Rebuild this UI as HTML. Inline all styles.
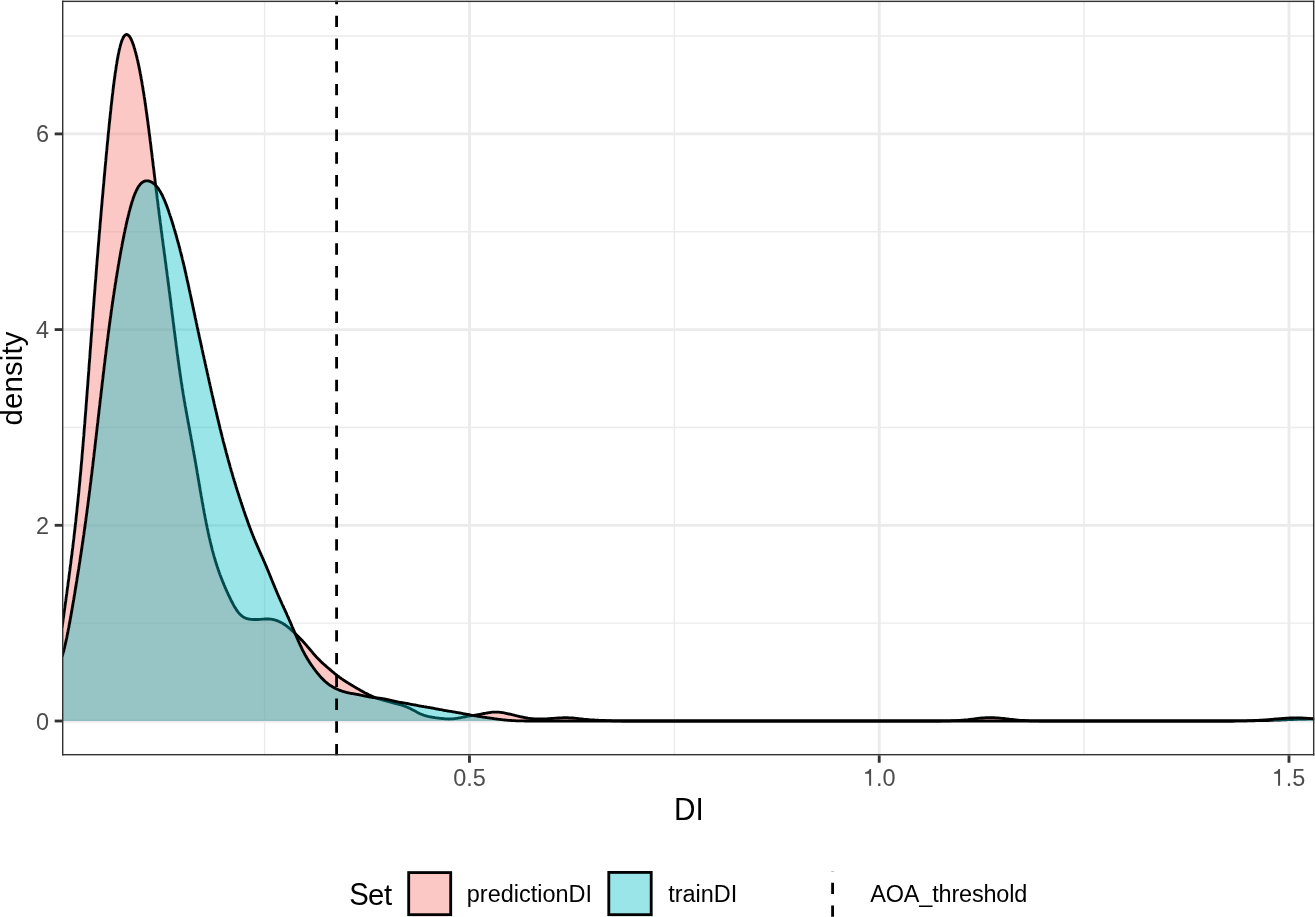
<!DOCTYPE html>
<html><head><meta charset="utf-8"><style>
html,body{margin:0;padding:0;background:#fff;}
body{width:1315px;height:917px;overflow:hidden;}
svg{display:block;font-family:"Liberation Sans",sans-serif;will-change:transform;}
</style></head><body>
<svg width="1315" height="917" viewBox="0 0 1315 917">
<defs><clipPath id="pc"><rect x="62.0" y="0.65" width="1252.40" height="754.75"/></clipPath></defs>
<rect x="0" y="0" width="1315" height="917" fill="#fff"/>
<g clip-path="url(#pc)">
<g stroke="#EBEBEB"><line x1="62.0" x2="1314.4" y1="623.15" y2="623.15" stroke-width="1.42"/><line x1="62.0" x2="1314.4" y1="427.45" y2="427.45" stroke-width="1.42"/><line x1="62.0" x2="1314.4" y1="231.75" y2="231.75" stroke-width="1.42"/><line x1="62.0" x2="1314.4" y1="36.05" y2="36.05" stroke-width="1.42"/><line y1="0.65" y2="755.4" x1="264.58" x2="264.58" stroke-width="1.42"/><line y1="0.65" y2="755.4" x1="674.34" x2="674.34" stroke-width="1.42"/><line y1="0.65" y2="755.4" x1="1084.09" x2="1084.09" stroke-width="1.42"/><line x1="62.0" x2="1314.4" y1="721.00" y2="721.00" stroke-width="2.84"/><line x1="62.0" x2="1314.4" y1="525.30" y2="525.30" stroke-width="2.84"/><line x1="62.0" x2="1314.4" y1="329.60" y2="329.60" stroke-width="2.84"/><line x1="62.0" x2="1314.4" y1="133.90" y2="133.90" stroke-width="2.84"/><line y1="0.65" y2="755.4" x1="469.46" x2="469.46" stroke-width="2.84"/><line y1="0.65" y2="755.4" x1="879.21" x2="879.21" stroke-width="2.84"/><line y1="0.65" y2="755.4" x1="1288.97" x2="1288.97" stroke-width="2.84"/></g>
<path d="M62.0,627.5L62.2,625.8L62.5,624.0L62.8,622.3L63.0,620.5L63.2,618.7L63.5,617.0L63.8,615.2L64.0,613.4L64.2,611.6L64.5,609.8L64.8,608.0L65.0,606.2L65.2,604.4L65.5,602.6L65.8,600.7L66.0,598.9L66.2,597.1L66.5,595.2L66.8,593.4L67.0,591.6L67.2,589.7L67.5,587.8L67.8,586.0L68.0,584.1L68.2,582.2L68.5,580.4L68.8,578.5L69.0,576.6L69.2,574.7L69.5,572.8L69.8,570.9L70.0,569.0L70.2,567.0L70.5,565.1L70.8,563.2L71.0,561.2L71.2,559.2L71.5,557.3L71.8,555.3L72.0,553.3L72.2,551.2L72.5,549.2L72.8,547.2L73.0,545.1L73.2,543.1L73.5,541.0L73.8,538.9L74.0,536.7L74.2,534.6L74.5,532.5L74.8,530.3L75.0,528.1L75.2,525.9L75.5,523.6L75.8,521.4L76.0,519.1L76.2,516.8L76.5,514.5L76.8,512.1L77.0,509.8L77.2,507.4L77.5,504.9L77.8,502.5L78.0,500.0L78.2,497.5L78.5,495.0L78.8,492.4L79.0,489.9L79.2,487.3L79.5,484.6L79.8,482.0L80.0,479.3L80.2,476.6L80.5,473.8L80.8,471.1L81.0,468.3L81.2,465.5L81.5,462.6L81.8,459.8L82.0,456.9L82.2,453.9L82.5,451.0L82.8,448.0L83.0,445.0L83.2,442.0L83.5,438.9L83.8,435.9L84.0,432.8L84.2,429.7L84.5,426.5L84.8,423.4L85.0,420.2L85.2,417.0L85.5,413.8L85.8,410.6L86.0,407.3L86.2,404.1L86.5,400.8L86.8,397.5L87.0,394.2L87.2,390.9L87.5,387.6L87.8,384.3L88.0,380.9L88.2,377.6L88.5,374.3L88.8,370.9L89.0,367.5L89.2,364.2L89.5,360.8L89.8,357.4L90.0,354.1L90.2,350.7L90.5,347.3L90.8,344.0L91.0,340.6L91.2,337.2L91.5,333.9L91.8,330.5L92.0,327.2L92.2,323.9L92.5,320.5L92.8,317.2L93.0,313.9L93.2,310.6L93.5,307.3L93.8,304.0L94.0,300.7L94.2,297.5L94.5,294.2L94.8,291.0L95.0,287.8L95.2,284.5L95.5,281.3L95.8,278.2L96.0,275.0L96.2,271.8L96.5,268.7L96.8,265.5L97.0,262.4L97.2,259.3L97.5,256.2L97.8,253.1L98.0,250.0L98.2,247.0L98.5,244.0L98.8,240.9L99.0,237.9L99.2,234.9L99.5,231.9L99.8,228.9L100.0,226.0L100.2,223.0L100.5,220.1L100.8,217.1L101.0,214.2L101.2,211.3L101.5,208.4L101.8,205.5L102.0,202.7L102.2,199.8L102.5,196.9L102.8,194.1L103.0,191.3L103.2,188.5L103.5,185.6L103.8,182.9L104.0,180.1L104.2,177.3L104.5,174.5L104.8,171.8L105.0,169.0L105.2,166.3L105.5,163.6L105.8,160.9L106.0,158.2L106.2,155.5L106.5,152.9L106.8,150.2L107.0,147.6L107.2,145.0L107.5,142.4L107.8,139.8L108.0,137.2L108.2,134.7L108.5,132.1L108.8,129.6L109.0,127.1L109.2,124.6L109.5,122.2L109.8,119.8L110.0,117.3L110.2,115.0L110.5,112.6L110.8,110.2L111.0,107.9L111.2,105.6L111.5,103.4L111.8,101.1L112.0,98.9L112.2,96.8L112.5,94.6L112.8,92.5L113.0,90.4L113.2,88.4L113.5,86.3L113.8,84.3L114.0,82.4L114.2,80.5L114.5,78.6L114.8,76.8L115.0,74.9L115.2,73.2L115.5,71.4L115.8,69.7L116.0,68.1L116.2,66.5L116.5,64.9L116.8,63.3L117.0,61.8L117.2,60.4L117.5,59.0L117.8,57.6L118.0,56.2L118.2,54.9L118.5,53.7L118.8,52.5L119.0,51.3L119.2,50.2L119.5,49.1L119.8,48.0L120.0,47.0L120.2,46.1L120.5,45.1L120.8,44.3L121.0,43.4L121.2,42.6L121.5,41.8L121.8,41.1L122.0,40.4L122.2,39.8L122.5,39.2L122.8,38.6L123.0,38.1L123.2,37.6L123.5,37.1L124.0,36.4L124.5,35.7L125.0,35.2L125.5,34.8L126.0,34.6L126.5,34.5L127.0,34.5L127.5,34.7L128.0,35.0L128.5,35.4L129.0,35.9L129.5,36.5L130.0,37.3L130.5,38.1L130.8,38.6L131.0,39.1L131.2,39.6L131.5,40.1L131.8,40.7L132.0,41.3L132.2,41.9L132.5,42.5L132.8,43.2L133.0,43.9L133.2,44.6L133.5,45.3L133.8,46.1L134.0,46.9L134.2,47.7L134.5,48.5L134.8,49.3L135.0,50.2L135.2,51.1L135.5,52.0L135.8,52.9L136.0,53.9L136.2,54.9L136.5,55.9L136.8,56.9L137.0,57.9L137.2,59.0L137.5,60.1L137.8,61.2L138.0,62.3L138.2,63.4L138.5,64.6L138.8,65.8L139.0,67.0L139.2,68.2L139.5,69.4L139.8,70.7L140.0,72.0L140.2,73.3L140.5,74.6L140.8,76.0L141.0,77.3L141.2,78.7L141.5,80.1L141.8,81.6L142.0,83.0L142.2,84.5L142.5,86.0L142.8,87.5L143.0,89.0L143.2,90.5L143.5,92.1L143.8,93.7L144.0,95.3L144.2,96.9L144.5,98.6L144.8,100.2L145.0,101.9L145.2,103.6L145.5,105.3L145.8,107.0L146.0,108.8L146.2,110.6L146.5,112.4L146.8,114.2L147.0,116.0L147.2,117.8L147.5,119.7L147.8,121.5L148.0,123.4L148.2,125.3L148.5,127.2L148.8,129.2L149.0,131.1L149.2,133.1L149.5,135.0L149.8,137.0L150.0,139.0L150.2,141.0L150.5,143.0L150.8,145.0L151.0,147.0L151.2,149.1L151.5,151.1L151.8,153.1L152.0,155.2L152.2,157.2L152.5,159.3L152.8,161.4L153.0,163.4L153.2,165.5L153.5,167.6L153.8,169.6L154.0,171.7L154.2,173.8L154.5,175.9L154.8,177.9L155.0,180.0L155.2,182.1L155.5,184.1L155.8,186.2L156.0,188.2L156.2,190.3L156.5,192.3L156.8,194.4L157.0,196.4L157.2,198.4L157.5,200.4L157.8,202.4L158.0,204.5L158.2,206.5L158.5,208.4L158.8,210.4L159.0,212.4L159.2,214.4L159.5,216.3L159.8,218.3L160.0,220.3L160.2,222.2L160.5,224.1L160.8,226.1L161.0,228.0L161.2,229.9L161.5,231.8L161.8,233.7L162.0,235.6L162.2,237.5L162.5,239.4L162.8,241.3L163.0,243.2L163.2,245.1L163.5,247.0L163.8,248.8L164.0,250.7L164.2,252.6L164.5,254.5L164.8,256.3L165.0,258.2L165.2,260.1L165.5,262.0L165.8,263.8L166.0,265.7L166.2,267.6L166.5,269.5L166.8,271.4L167.0,273.3L167.2,275.2L167.5,277.1L167.8,279.0L168.0,280.9L168.2,282.8L168.5,284.7L168.8,286.7L169.0,288.6L169.2,290.5L169.5,292.5L169.8,294.4L170.0,296.4L170.2,298.3L170.5,300.3L170.8,302.3L171.0,304.2L171.2,306.2L171.5,308.2L171.8,310.1L172.0,312.1L172.2,314.1L172.5,316.1L172.8,318.1L173.0,320.1L173.2,322.0L173.5,324.0L173.8,326.0L174.0,328.0L174.2,329.9L174.5,331.9L174.8,333.9L175.0,335.9L175.2,337.8L175.5,339.8L175.8,341.7L176.0,343.6L176.2,345.6L176.5,347.5L176.8,349.4L177.0,351.3L177.2,353.2L177.5,355.1L177.8,356.9L178.0,358.8L178.2,360.6L178.5,362.4L178.8,364.3L179.0,366.0L179.2,367.8L179.5,369.6L179.8,371.3L180.0,373.1L180.2,374.8L180.5,376.5L180.8,378.2L181.0,379.9L181.2,381.5L181.5,383.2L181.8,384.8L182.0,386.4L182.2,388.0L182.5,389.6L182.8,391.1L183.0,392.7L183.2,394.2L183.5,395.7L183.8,397.2L184.0,398.7L184.2,400.2L184.5,401.7L184.8,403.1L185.0,404.6L185.2,406.0L185.5,407.4L185.8,408.8L186.0,410.2L186.2,411.6L186.5,413.0L186.8,414.4L187.0,415.8L187.2,417.1L187.5,418.5L187.8,419.8L188.0,421.2L188.2,422.6L188.5,423.9L188.8,425.2L189.0,426.6L189.2,427.9L189.5,429.3L189.8,430.6L190.0,432.0L190.2,433.3L190.5,434.7L190.8,436.0L191.0,437.4L191.2,438.7L191.5,440.1L191.8,441.5L192.0,442.8L192.2,444.2L192.5,445.6L192.8,447.0L193.0,448.4L193.2,449.8L193.5,451.2L193.8,452.6L194.0,454.0L194.2,455.4L194.5,456.8L194.8,458.2L195.0,459.7L195.2,461.1L195.5,462.5L195.8,464.0L196.0,465.4L196.2,466.9L196.5,468.3L196.8,469.8L197.0,471.2L197.2,472.7L197.5,474.2L197.8,475.6L198.0,477.1L198.2,478.6L198.5,480.0L198.8,481.5L199.0,483.0L199.2,484.4L199.5,485.9L199.8,487.4L200.0,488.8L200.2,490.3L200.5,491.7L200.8,493.2L201.0,494.6L201.2,496.0L201.5,497.5L201.8,498.9L202.0,500.3L202.2,501.7L202.5,503.1L202.8,504.5L203.0,505.9L203.2,507.3L203.5,508.7L203.8,510.1L204.0,511.4L204.2,512.8L204.5,514.1L204.8,515.4L205.0,516.7L205.2,518.0L205.5,519.3L205.8,520.6L206.0,521.9L206.2,523.1L206.5,524.4L206.8,525.6L207.0,526.8L207.2,528.0L207.5,529.2L207.8,530.4L208.0,531.6L208.2,532.8L208.5,533.9L208.8,535.0L209.0,536.2L209.2,537.3L209.5,538.4L209.8,539.4L210.0,540.5L210.2,541.6L210.5,542.6L210.8,543.7L211.0,544.7L211.2,545.7L211.5,546.7L211.8,547.7L212.0,548.7L212.2,549.6L212.5,550.6L212.8,551.5L213.0,552.5L213.2,553.4L213.5,554.3L213.8,555.2L214.0,556.1L214.2,556.9L214.5,557.8L214.8,558.7L215.0,559.5L215.2,560.3L215.5,561.2L215.8,562.0L216.0,562.8L216.2,563.6L216.5,564.4L216.8,565.2L217.0,565.9L217.2,566.7L217.5,567.4L217.8,568.2L218.0,568.9L218.2,569.7L218.5,570.4L218.8,571.1L219.0,571.8L219.2,572.5L219.5,573.2L219.8,573.9L220.0,574.6L220.2,575.2L220.5,575.9L220.8,576.6L221.0,577.2L221.2,577.9L221.5,578.5L221.8,579.2L222.0,579.8L222.2,580.4L222.5,581.1L222.8,581.7L223.0,582.3L223.2,582.9L223.5,583.5L223.8,584.1L224.0,584.7L224.2,585.3L224.5,585.9L224.8,586.5L225.0,587.1L225.2,587.7L225.5,588.2L225.8,588.8L226.0,589.4L226.2,590.0L226.5,590.5L226.8,591.1L227.0,591.7L227.2,592.2L227.5,592.8L227.8,593.3L228.0,593.9L228.2,594.4L228.5,594.9L228.8,595.5L229.0,596.0L229.2,596.5L229.5,597.1L229.8,597.6L230.0,598.1L230.2,598.6L230.5,599.1L230.8,599.7L231.0,600.2L231.2,600.7L231.5,601.2L231.8,601.6L232.0,602.1L232.2,602.6L232.5,603.1L232.8,603.6L233.0,604.0L233.2,604.5L233.5,604.9L233.8,605.4L234.0,605.8L234.2,606.3L234.8,607.1L235.2,607.9L235.8,608.7L236.2,609.5L236.8,610.2L237.2,611.0L237.8,611.6L238.2,612.3L238.8,612.9L239.2,613.5L239.8,614.0L240.2,614.5L240.8,615.0L241.2,615.4L241.8,615.9L242.2,616.2L242.8,616.6L243.2,616.9L243.8,617.2L244.2,617.5L244.8,617.8L245.2,618.0L245.8,618.2L246.2,618.4L246.8,618.5L247.2,618.7L247.8,618.8L248.2,618.9L248.8,619.0L249.2,619.1L249.8,619.2L250.2,619.3L250.8,619.3L251.2,619.4L251.8,619.4L252.2,619.4L252.8,619.5L253.2,619.5L253.8,619.5L254.2,619.5L254.8,619.5L255.2,619.5L255.8,619.5L256.2,619.5L256.8,619.5L257.2,619.5L257.8,619.5L258.2,619.5L258.8,619.4L259.2,619.4L259.8,619.4L260.2,619.3L260.8,619.3L261.2,619.3L261.8,619.2L262.2,619.2L262.8,619.1L263.2,619.1L263.8,619.1L264.2,619.1L264.8,619.0L265.2,619.0L265.8,619.0L266.2,619.0L266.8,619.0L267.2,619.0L267.8,619.0L268.2,619.0L268.8,619.0L269.2,619.0L269.8,619.1L270.2,619.1L270.8,619.2L271.2,619.2L271.8,619.3L272.2,619.4L272.8,619.5L273.2,619.6L273.8,619.7L274.2,619.8L274.8,619.9L275.2,620.1L275.8,620.2L276.2,620.4L276.8,620.6L277.2,620.8L277.8,620.9L278.2,621.1L278.8,621.4L279.2,621.6L279.8,621.8L280.2,622.1L280.8,622.3L281.2,622.6L281.8,622.8L282.2,623.1L282.8,623.4L283.2,623.7L283.8,624.0L284.2,624.3L284.8,624.7L285.2,625.0L285.8,625.4L286.2,625.7L286.8,626.1L287.2,626.5L287.8,626.9L288.2,627.3L288.8,627.7L289.2,628.1L289.8,628.5L290.2,629.0L290.8,629.4L291.2,629.9L291.8,630.3L292.2,630.8L292.8,631.2L293.2,631.7L293.8,632.2L294.2,632.6L294.8,633.1L295.2,633.6L295.8,634.1L296.2,634.6L296.8,635.0L297.2,635.5L297.8,636.0L298.2,636.5L298.8,637.0L299.2,637.5L299.8,638.0L300.2,638.6L300.8,639.1L301.2,639.6L301.8,640.1L302.2,640.6L302.8,641.2L303.2,641.7L303.8,642.3L304.2,642.8L304.8,643.4L305.2,643.9L305.8,644.5L306.2,645.1L306.8,645.7L307.2,646.3L307.8,646.8L308.2,647.4L308.8,648.0L309.2,648.6L309.8,649.2L310.2,649.8L310.8,650.4L311.2,651.0L311.8,651.6L312.2,652.2L312.8,652.8L313.2,653.4L313.8,654.0L314.2,654.5L314.8,655.1L315.2,655.7L315.8,656.2L316.2,656.8L316.8,657.3L317.2,657.8L317.8,658.4L318.2,658.9L318.8,659.4L319.2,659.9L319.8,660.4L320.2,660.9L320.8,661.4L321.2,661.8L321.8,662.3L322.2,662.8L322.8,663.2L323.2,663.7L323.8,664.1L324.2,664.6L324.8,665.0L325.2,665.4L325.8,665.9L326.2,666.3L326.8,666.8L327.2,667.2L327.8,667.6L328.2,668.1L328.8,668.5L329.2,668.9L329.8,669.4L330.2,669.8L330.8,670.2L331.2,670.6L331.8,671.1L332.2,671.5L332.8,671.9L333.2,672.3L333.8,672.7L334.2,673.2L334.8,673.6L335.2,674.0L335.8,674.4L336.2,674.8L336.8,675.2L337.2,675.6L337.8,675.9L338.2,676.3L338.8,676.7L339.2,677.1L339.8,677.4L340.2,677.8L340.8,678.2L341.2,678.5L341.8,678.9L342.2,679.2L342.8,679.5L343.2,679.9L343.8,680.2L344.2,680.5L344.8,680.9L345.2,681.2L345.8,681.5L346.2,681.8L346.8,682.2L347.2,682.5L347.8,682.8L348.2,683.1L348.8,683.4L349.2,683.7L349.8,684.0L350.2,684.3L350.8,684.6L351.2,684.9L351.8,685.2L352.2,685.5L352.8,685.8L353.2,686.1L353.8,686.4L354.2,686.7L354.8,687.0L355.2,687.3L355.8,687.6L356.2,687.9L356.8,688.2L357.2,688.5L357.8,688.8L358.2,689.0L358.8,689.3L359.2,689.6L359.8,689.9L360.2,690.2L360.8,690.5L361.2,690.7L361.8,691.0L362.2,691.3L362.8,691.6L363.2,691.9L363.8,692.1L364.2,692.4L364.8,692.7L365.2,692.9L365.8,693.2L366.2,693.5L366.8,693.7L367.2,694.0L367.8,694.2L368.2,694.5L368.8,694.8L369.2,695.0L369.8,695.2L370.2,695.5L370.8,695.7L371.2,696.0L371.8,696.2L372.2,696.4L372.8,696.6L373.2,696.8L373.8,697.0L374.2,697.2L374.8,697.4L375.2,697.6L375.8,697.8L376.2,698.0L376.8,698.2L377.2,698.3L377.8,698.5L378.2,698.7L378.8,698.8L379.2,699.0L379.8,699.1L380.2,699.3L380.8,699.4L381.2,699.6L381.8,699.7L382.2,699.9L382.8,700.0L383.2,700.2L383.8,700.3L384.2,700.4L384.8,700.6L385.2,700.7L385.8,700.8L386.2,701.0L386.8,701.1L387.2,701.2L387.8,701.4L388.2,701.5L388.8,701.7L389.2,701.8L389.8,701.9L390.2,702.1L390.8,702.2L391.2,702.3L391.8,702.5L392.2,702.6L392.8,702.7L393.2,702.9L393.8,703.0L394.2,703.1L394.8,703.3L395.2,703.4L395.8,703.5L396.2,703.7L396.8,703.8L397.2,703.9L397.8,704.0L398.2,704.2L398.8,704.3L399.2,704.5L399.8,704.6L401.0,704.9L402.0,705.2L403.0,705.6L404.0,705.9L405.0,706.3L406.0,706.6L407.0,707.1L408.0,707.5L409.0,708.0L410.0,708.4L411.0,709.0L412.0,709.5L413.0,710.0L414.0,710.6L415.0,711.1L416.0,711.6L417.0,712.2L418.0,712.7L419.0,713.2L420.0,713.7L421.0,714.1L422.0,714.5L423.0,714.9L424.0,715.3L425.0,715.6L426.0,715.9L427.0,716.2L428.0,716.4L429.0,716.7L430.0,716.9L431.0,717.0L432.0,717.2L433.0,717.4L434.0,717.5L435.0,717.7L436.0,717.8L437.0,717.9L438.0,718.1L439.0,718.2L440.0,718.3L441.0,718.4L442.0,718.5L443.0,718.6L444.0,718.7L445.0,718.8L446.0,718.9L447.0,718.9L448.0,718.9L449.0,719.0L450.0,718.9L451.0,718.9L452.0,718.9L453.0,718.8L454.0,718.7L455.0,718.6L456.0,718.4L457.0,718.3L458.0,718.1L459.0,717.9L460.0,717.8L461.0,717.6L462.0,717.4L463.0,717.2L464.0,717.0L465.0,716.8L466.0,716.6L467.0,716.4L468.0,716.2L469.0,716.0L470.0,715.9L471.0,715.7L472.0,715.6L473.0,715.4L474.0,715.3L475.0,715.1L476.0,715.0L477.0,714.8L478.0,714.6L479.0,714.5L480.0,714.3L481.0,714.1L482.0,713.9L483.0,713.7L484.0,713.5L485.0,713.3L486.0,713.2L487.0,713.0L488.0,712.8L489.0,712.6L490.0,712.5L491.0,712.3L492.0,712.2L493.0,712.1L494.0,712.1L495.0,712.1L496.0,712.1L497.0,712.1L498.0,712.1L499.0,712.2L500.0,712.3L501.0,712.4L502.0,712.6L503.0,712.7L504.0,712.9L505.0,713.1L506.0,713.3L507.0,713.5L508.0,713.8L509.0,714.0L510.0,714.2L511.0,714.4L512.0,714.7L513.0,714.9L514.0,715.1L515.0,715.4L516.0,715.6L517.0,715.9L518.0,716.1L519.0,716.3L520.0,716.6L521.0,716.8L522.0,717.0L523.0,717.2L524.0,717.5L525.0,717.6L526.0,717.8L527.0,718.0L528.0,718.2L529.0,718.3L530.0,718.4L531.0,718.6L532.0,718.7L533.0,718.7L534.0,718.8L535.0,718.9L536.0,718.9L537.0,719.0L538.0,719.0L539.0,719.0L540.0,719.0L541.0,719.0L542.0,719.0L543.0,719.0L544.0,718.9L545.0,718.9L546.0,718.8L547.0,718.8L548.0,718.7L549.0,718.7L550.0,718.6L551.0,718.5L552.0,718.5L553.0,718.4L554.0,718.3L555.0,718.2L556.0,718.2L557.0,718.1L558.0,718.0L559.0,718.0L560.0,717.9L561.0,717.8L562.0,717.8L563.0,717.7L564.0,717.7L565.0,717.7L566.0,717.7L567.0,717.7L568.0,717.7L569.0,717.8L570.0,717.8L571.0,717.9L572.0,717.9L573.0,718.0L574.0,718.1L575.0,718.2L576.0,718.3L577.0,718.4L578.0,718.6L579.0,718.7L580.0,718.8L581.0,718.9L582.0,719.0L583.0,719.1L584.0,719.3L585.0,719.4L586.0,719.5L587.0,719.5L588.0,719.6L589.0,719.7L590.0,719.8L591.0,719.9L592.0,719.9L593.0,720.0L594.0,720.0L595.0,720.1L596.0,720.1L597.0,720.2L598.0,720.2L599.0,720.3L600.0,720.3L601.0,720.4L602.0,720.4L603.0,720.4L604.0,720.5L605.0,720.5L606.0,720.6L607.0,720.6L608.0,720.6L609.0,720.7L610.0,720.7L611.0,720.7L612.0,720.8L613.0,720.8L614.0,720.8L615.0,720.8L616.0,720.9L617.0,720.9L618.0,720.9L619.0,720.9L620.0,720.9L621.0,720.9L622.0,721.0L623.0,721.0L624.0,721.0L625.0,721.0L626.0,721.0L627.0,721.0L628.0,721.0L629.0,721.0L630.0,721.0L631.0,721.0L632.0,721.0L633.0,721.0L634.0,721.0L635.0,721.0L636.0,721.0L637.0,721.0L638.0,721.0L639.0,721.0L640.0,721.0L641.0,721.0L642.0,721.0L643.0,721.0L644.0,721.0L645.0,721.0L646.0,721.0L647.0,721.0L648.0,721.0L649.0,721.0L650.0,721.0L651.0,721.0L652.0,721.0L653.0,721.0L654.0,721.0L655.0,721.0L656.0,721.0L657.0,721.0L658.0,721.0L659.0,721.0L660.0,721.0L661.0,721.0L662.0,721.0L663.0,721.0L664.0,721.0L665.0,721.0L666.0,721.0L667.0,721.0L668.0,721.0L669.0,721.0L670.0,721.0L671.0,721.0L672.0,721.0L673.0,721.0L674.0,721.0L675.0,721.0L676.0,721.0L677.0,721.0L678.0,721.0L679.0,721.0L680.0,721.0L681.0,721.0L682.0,721.0L683.0,721.0L684.0,721.0L685.0,721.0L686.0,721.0L687.0,721.0L688.0,721.0L689.0,721.0L690.0,721.0L691.0,721.0L692.0,721.0L693.0,721.0L694.0,721.0L695.0,721.0L696.0,721.0L697.0,721.0L698.0,721.0L699.0,721.0L700.0,721.0L702.0,721.0L704.0,721.0L706.0,721.0L708.0,721.0L710.0,721.0L712.0,721.0L714.0,721.0L716.0,721.0L718.0,721.0L720.0,721.0L722.0,721.0L724.0,721.0L726.0,721.0L728.0,721.0L730.0,721.0L732.0,721.0L734.0,721.0L736.0,721.0L738.0,721.0L740.0,721.0L742.0,721.0L744.0,721.0L746.0,721.0L748.0,721.0L750.0,721.0L752.0,721.0L754.0,721.0L756.0,721.0L758.0,721.0L760.0,721.0L762.0,721.0L764.0,721.0L766.0,721.0L768.0,721.0L770.0,721.0L772.0,721.0L774.0,721.0L776.0,721.0L778.0,721.0L780.0,721.0L782.0,721.0L784.0,721.0L786.0,721.0L788.0,721.0L790.0,721.0L792.0,721.0L794.0,721.0L796.0,721.0L798.0,721.0L800.0,721.0L802.0,721.0L804.0,721.0L806.0,721.0L808.0,721.0L810.0,721.0L812.0,721.0L814.0,721.0L816.0,721.0L818.0,721.0L820.0,721.0L822.0,721.0L824.0,721.0L826.0,721.0L828.0,721.0L830.0,721.0L832.0,721.0L834.0,721.0L836.0,721.0L838.0,721.0L840.0,721.0L842.0,721.0L844.0,721.0L846.0,721.0L848.0,721.0L850.0,721.0L852.0,721.0L854.0,721.0L856.0,721.0L858.0,721.0L860.0,721.0L862.0,721.0L864.0,721.0L866.0,721.0L868.0,721.0L870.0,721.0L872.0,721.0L874.0,721.0L876.0,721.0L878.0,721.0L880.0,721.0L882.0,721.0L884.0,721.0L886.0,721.0L888.0,721.0L890.0,721.0L892.0,721.0L894.0,721.0L896.0,721.0L898.0,721.0L900.0,721.0L902.0,721.0L904.0,721.0L906.0,721.0L908.0,721.0L910.0,721.0L912.0,721.0L914.0,721.0L916.0,721.0L918.0,721.0L920.0,721.0L922.0,721.0L924.0,721.0L926.0,721.0L928.0,721.0L930.0,721.0L932.0,721.0L934.0,721.0L936.0,721.0L938.0,721.0L940.0,721.0L942.0,720.9L944.0,720.9L946.0,720.9L948.0,720.8L950.0,720.8L952.0,720.7L954.0,720.7L956.0,720.6L958.0,720.4L960.0,720.3L962.0,720.1L964.0,720.0L966.0,719.8L968.0,719.6L970.0,719.3L972.0,719.1L974.0,718.9L976.0,718.6L978.0,718.4L980.0,718.2L982.0,718.0L984.0,717.8L986.0,717.7L988.0,717.6L990.0,717.6L992.0,717.6L994.0,717.7L996.0,717.8L998.0,717.9L1000.0,718.1L1002.0,718.3L1004.0,718.5L1006.0,718.8L1008.0,719.0L1010.0,719.3L1012.0,719.5L1014.0,719.7L1016.0,719.9L1018.0,720.1L1020.0,720.3L1022.0,720.4L1024.0,720.5L1026.0,720.6L1028.0,720.7L1030.0,720.8L1032.0,720.8L1034.0,720.9L1036.0,720.9L1038.0,720.9L1040.0,721.0L1042.0,721.0L1044.0,721.0L1046.0,721.0L1048.0,721.0L1050.0,721.0L1052.0,721.0L1054.0,721.0L1056.0,721.0L1058.0,721.0L1060.0,721.0L1062.0,721.0L1064.0,721.0L1066.0,721.0L1068.0,721.0L1070.0,721.0L1072.0,721.0L1074.0,721.0L1076.0,721.0L1078.0,721.0L1080.0,721.0L1082.0,721.0L1084.0,721.0L1086.0,721.0L1088.0,721.0L1090.0,721.0L1092.0,721.0L1094.0,721.0L1096.0,721.0L1098.0,721.0L1100.0,721.0L1102.0,721.0L1104.0,721.0L1106.0,721.0L1108.0,721.0L1110.0,721.0L1112.0,721.0L1114.0,721.0L1116.0,721.0L1118.0,721.0L1120.0,721.0L1122.0,721.0L1124.0,721.0L1126.0,721.0L1128.0,721.0L1130.0,721.0L1132.0,721.0L1134.0,721.0L1136.0,721.0L1138.0,721.0L1140.0,721.0L1142.0,721.0L1144.0,721.0L1146.0,721.0L1148.0,721.0L1150.0,721.0L1152.0,721.0L1154.0,721.0L1156.0,721.0L1158.0,721.0L1160.0,721.0L1162.0,721.0L1164.0,721.0L1166.0,721.0L1168.0,721.0L1170.0,721.0L1172.0,721.0L1174.0,721.0L1176.0,721.0L1178.0,721.0L1180.0,721.0L1182.0,721.0L1184.0,721.0L1186.0,721.0L1188.0,721.0L1190.0,721.0L1192.0,721.0L1194.0,721.0L1196.0,721.0L1198.0,721.0L1200.0,721.0L1202.0,721.0L1204.0,721.0L1206.0,721.0L1208.0,721.0L1210.0,721.0L1212.0,721.0L1214.0,721.0L1216.0,721.0L1218.0,721.0L1220.0,721.0L1222.0,721.0L1224.0,721.0L1226.0,721.0L1228.0,721.0L1230.0,721.0L1232.0,721.0L1234.0,721.0L1236.0,720.9L1238.0,720.9L1240.0,720.9L1242.0,720.9L1244.0,720.9L1246.0,720.9L1248.0,720.9L1250.0,720.8L1252.0,720.8L1254.0,720.8L1256.0,720.7L1258.0,720.7L1260.0,720.7L1262.0,720.6L1264.0,720.6L1266.0,720.5L1268.0,720.5L1270.0,720.4L1272.0,720.3L1274.0,720.2L1276.0,720.2L1278.0,720.1L1280.0,720.0L1282.0,719.9L1284.0,719.8L1286.0,719.8L1288.0,719.7L1290.0,719.6L1292.0,719.5L1294.0,719.4L1296.0,719.3L1298.0,719.2L1300.0,719.2L1302.0,719.1L1304.0,719.0L1306.0,719.0L1308.0,718.9L1310.0,718.9L1312.0,718.8L1314.0,718.8L1314.4,718.8L1314.4,721.0L62.0,721.0Z" fill="rgba(248,118,109,0.4)"/>
<path d="M62.0,627.5L62.2,625.8L62.5,624.0L62.8,622.3L63.0,620.5L63.2,618.7L63.5,617.0L63.8,615.2L64.0,613.4L64.2,611.6L64.5,609.8L64.8,608.0L65.0,606.2L65.2,604.4L65.5,602.6L65.8,600.7L66.0,598.9L66.2,597.1L66.5,595.2L66.8,593.4L67.0,591.6L67.2,589.7L67.5,587.8L67.8,586.0L68.0,584.1L68.2,582.2L68.5,580.4L68.8,578.5L69.0,576.6L69.2,574.7L69.5,572.8L69.8,570.9L70.0,569.0L70.2,567.0L70.5,565.1L70.8,563.2L71.0,561.2L71.2,559.2L71.5,557.3L71.8,555.3L72.0,553.3L72.2,551.2L72.5,549.2L72.8,547.2L73.0,545.1L73.2,543.1L73.5,541.0L73.8,538.9L74.0,536.7L74.2,534.6L74.5,532.5L74.8,530.3L75.0,528.1L75.2,525.9L75.5,523.6L75.8,521.4L76.0,519.1L76.2,516.8L76.5,514.5L76.8,512.1L77.0,509.8L77.2,507.4L77.5,504.9L77.8,502.5L78.0,500.0L78.2,497.5L78.5,495.0L78.8,492.4L79.0,489.9L79.2,487.3L79.5,484.6L79.8,482.0L80.0,479.3L80.2,476.6L80.5,473.8L80.8,471.1L81.0,468.3L81.2,465.5L81.5,462.6L81.8,459.8L82.0,456.9L82.2,453.9L82.5,451.0L82.8,448.0L83.0,445.0L83.2,442.0L83.5,438.9L83.8,435.9L84.0,432.8L84.2,429.7L84.5,426.5L84.8,423.4L85.0,420.2L85.2,417.0L85.5,413.8L85.8,410.6L86.0,407.3L86.2,404.1L86.5,400.8L86.8,397.5L87.0,394.2L87.2,390.9L87.5,387.6L87.8,384.3L88.0,380.9L88.2,377.6L88.5,374.3L88.8,370.9L89.0,367.5L89.2,364.2L89.5,360.8L89.8,357.4L90.0,354.1L90.2,350.7L90.5,347.3L90.8,344.0L91.0,340.6L91.2,337.2L91.5,333.9L91.8,330.5L92.0,327.2L92.2,323.9L92.5,320.5L92.8,317.2L93.0,313.9L93.2,310.6L93.5,307.3L93.8,304.0L94.0,300.7L94.2,297.5L94.5,294.2L94.8,291.0L95.0,287.8L95.2,284.5L95.5,281.3L95.8,278.2L96.0,275.0L96.2,271.8L96.5,268.7L96.8,265.5L97.0,262.4L97.2,259.3L97.5,256.2L97.8,253.1L98.0,250.0L98.2,247.0L98.5,244.0L98.8,240.9L99.0,237.9L99.2,234.9L99.5,231.9L99.8,228.9L100.0,226.0L100.2,223.0L100.5,220.1L100.8,217.1L101.0,214.2L101.2,211.3L101.5,208.4L101.8,205.5L102.0,202.7L102.2,199.8L102.5,196.9L102.8,194.1L103.0,191.3L103.2,188.5L103.5,185.6L103.8,182.9L104.0,180.1L104.2,177.3L104.5,174.5L104.8,171.8L105.0,169.0L105.2,166.3L105.5,163.6L105.8,160.9L106.0,158.2L106.2,155.5L106.5,152.9L106.8,150.2L107.0,147.6L107.2,145.0L107.5,142.4L107.8,139.8L108.0,137.2L108.2,134.7L108.5,132.1L108.8,129.6L109.0,127.1L109.2,124.6L109.5,122.2L109.8,119.8L110.0,117.3L110.2,115.0L110.5,112.6L110.8,110.2L111.0,107.9L111.2,105.6L111.5,103.4L111.8,101.1L112.0,98.9L112.2,96.8L112.5,94.6L112.8,92.5L113.0,90.4L113.2,88.4L113.5,86.3L113.8,84.3L114.0,82.4L114.2,80.5L114.5,78.6L114.8,76.8L115.0,74.9L115.2,73.2L115.5,71.4L115.8,69.7L116.0,68.1L116.2,66.5L116.5,64.9L116.8,63.3L117.0,61.8L117.2,60.4L117.5,59.0L117.8,57.6L118.0,56.2L118.2,54.9L118.5,53.7L118.8,52.5L119.0,51.3L119.2,50.2L119.5,49.1L119.8,48.0L120.0,47.0L120.2,46.1L120.5,45.1L120.8,44.3L121.0,43.4L121.2,42.6L121.5,41.8L121.8,41.1L122.0,40.4L122.2,39.8L122.5,39.2L122.8,38.6L123.0,38.1L123.2,37.6L123.5,37.1L124.0,36.4L124.5,35.7L125.0,35.2L125.5,34.8L126.0,34.6L126.5,34.5L127.0,34.5L127.5,34.7L128.0,35.0L128.5,35.4L129.0,35.9L129.5,36.5L130.0,37.3L130.5,38.1L130.8,38.6L131.0,39.1L131.2,39.6L131.5,40.1L131.8,40.7L132.0,41.3L132.2,41.9L132.5,42.5L132.8,43.2L133.0,43.9L133.2,44.6L133.5,45.3L133.8,46.1L134.0,46.9L134.2,47.7L134.5,48.5L134.8,49.3L135.0,50.2L135.2,51.1L135.5,52.0L135.8,52.9L136.0,53.9L136.2,54.9L136.5,55.9L136.8,56.9L137.0,57.9L137.2,59.0L137.5,60.1L137.8,61.2L138.0,62.3L138.2,63.4L138.5,64.6L138.8,65.8L139.0,67.0L139.2,68.2L139.5,69.4L139.8,70.7L140.0,72.0L140.2,73.3L140.5,74.6L140.8,76.0L141.0,77.3L141.2,78.7L141.5,80.1L141.8,81.6L142.0,83.0L142.2,84.5L142.5,86.0L142.8,87.5L143.0,89.0L143.2,90.5L143.5,92.1L143.8,93.7L144.0,95.3L144.2,96.9L144.5,98.6L144.8,100.2L145.0,101.9L145.2,103.6L145.5,105.3L145.8,107.0L146.0,108.8L146.2,110.6L146.5,112.4L146.8,114.2L147.0,116.0L147.2,117.8L147.5,119.7L147.8,121.5L148.0,123.4L148.2,125.3L148.5,127.2L148.8,129.2L149.0,131.1L149.2,133.1L149.5,135.0L149.8,137.0L150.0,139.0L150.2,141.0L150.5,143.0L150.8,145.0L151.0,147.0L151.2,149.1L151.5,151.1L151.8,153.1L152.0,155.2L152.2,157.2L152.5,159.3L152.8,161.4L153.0,163.4L153.2,165.5L153.5,167.6L153.8,169.6L154.0,171.7L154.2,173.8L154.5,175.9L154.8,177.9L155.0,180.0L155.2,182.1L155.5,184.1L155.8,186.2L156.0,188.2L156.2,190.3L156.5,192.3L156.8,194.4L157.0,196.4L157.2,198.4L157.5,200.4L157.8,202.4L158.0,204.5L158.2,206.5L158.5,208.4L158.8,210.4L159.0,212.4L159.2,214.4L159.5,216.3L159.8,218.3L160.0,220.3L160.2,222.2L160.5,224.1L160.8,226.1L161.0,228.0L161.2,229.9L161.5,231.8L161.8,233.7L162.0,235.6L162.2,237.5L162.5,239.4L162.8,241.3L163.0,243.2L163.2,245.1L163.5,247.0L163.8,248.8L164.0,250.7L164.2,252.6L164.5,254.5L164.8,256.3L165.0,258.2L165.2,260.1L165.5,262.0L165.8,263.8L166.0,265.7L166.2,267.6L166.5,269.5L166.8,271.4L167.0,273.3L167.2,275.2L167.5,277.1L167.8,279.0L168.0,280.9L168.2,282.8L168.5,284.7L168.8,286.7L169.0,288.6L169.2,290.5L169.5,292.5L169.8,294.4L170.0,296.4L170.2,298.3L170.5,300.3L170.8,302.3L171.0,304.2L171.2,306.2L171.5,308.2L171.8,310.1L172.0,312.1L172.2,314.1L172.5,316.1L172.8,318.1L173.0,320.1L173.2,322.0L173.5,324.0L173.8,326.0L174.0,328.0L174.2,329.9L174.5,331.9L174.8,333.9L175.0,335.9L175.2,337.8L175.5,339.8L175.8,341.7L176.0,343.6L176.2,345.6L176.5,347.5L176.8,349.4L177.0,351.3L177.2,353.2L177.5,355.1L177.8,356.9L178.0,358.8L178.2,360.6L178.5,362.4L178.8,364.3L179.0,366.0L179.2,367.8L179.5,369.6L179.8,371.3L180.0,373.1L180.2,374.8L180.5,376.5L180.8,378.2L181.0,379.9L181.2,381.5L181.5,383.2L181.8,384.8L182.0,386.4L182.2,388.0L182.5,389.6L182.8,391.1L183.0,392.7L183.2,394.2L183.5,395.7L183.8,397.2L184.0,398.7L184.2,400.2L184.5,401.7L184.8,403.1L185.0,404.6L185.2,406.0L185.5,407.4L185.8,408.8L186.0,410.2L186.2,411.6L186.5,413.0L186.8,414.4L187.0,415.8L187.2,417.1L187.5,418.5L187.8,419.8L188.0,421.2L188.2,422.6L188.5,423.9L188.8,425.2L189.0,426.6L189.2,427.9L189.5,429.3L189.8,430.6L190.0,432.0L190.2,433.3L190.5,434.7L190.8,436.0L191.0,437.4L191.2,438.7L191.5,440.1L191.8,441.5L192.0,442.8L192.2,444.2L192.5,445.6L192.8,447.0L193.0,448.4L193.2,449.8L193.5,451.2L193.8,452.6L194.0,454.0L194.2,455.4L194.5,456.8L194.8,458.2L195.0,459.7L195.2,461.1L195.5,462.5L195.8,464.0L196.0,465.4L196.2,466.9L196.5,468.3L196.8,469.8L197.0,471.2L197.2,472.7L197.5,474.2L197.8,475.6L198.0,477.1L198.2,478.6L198.5,480.0L198.8,481.5L199.0,483.0L199.2,484.4L199.5,485.9L199.8,487.4L200.0,488.8L200.2,490.3L200.5,491.7L200.8,493.2L201.0,494.6L201.2,496.0L201.5,497.5L201.8,498.9L202.0,500.3L202.2,501.7L202.5,503.1L202.8,504.5L203.0,505.9L203.2,507.3L203.5,508.7L203.8,510.1L204.0,511.4L204.2,512.8L204.5,514.1L204.8,515.4L205.0,516.7L205.2,518.0L205.5,519.3L205.8,520.6L206.0,521.9L206.2,523.1L206.5,524.4L206.8,525.6L207.0,526.8L207.2,528.0L207.5,529.2L207.8,530.4L208.0,531.6L208.2,532.8L208.5,533.9L208.8,535.0L209.0,536.2L209.2,537.3L209.5,538.4L209.8,539.4L210.0,540.5L210.2,541.6L210.5,542.6L210.8,543.7L211.0,544.7L211.2,545.7L211.5,546.7L211.8,547.7L212.0,548.7L212.2,549.6L212.5,550.6L212.8,551.5L213.0,552.5L213.2,553.4L213.5,554.3L213.8,555.2L214.0,556.1L214.2,556.9L214.5,557.8L214.8,558.7L215.0,559.5L215.2,560.3L215.5,561.2L215.8,562.0L216.0,562.8L216.2,563.6L216.5,564.4L216.8,565.2L217.0,565.9L217.2,566.7L217.5,567.4L217.8,568.2L218.0,568.9L218.2,569.7L218.5,570.4L218.8,571.1L219.0,571.8L219.2,572.5L219.5,573.2L219.8,573.9L220.0,574.6L220.2,575.2L220.5,575.9L220.8,576.6L221.0,577.2L221.2,577.9L221.5,578.5L221.8,579.2L222.0,579.8L222.2,580.4L222.5,581.1L222.8,581.7L223.0,582.3L223.2,582.9L223.5,583.5L223.8,584.1L224.0,584.7L224.2,585.3L224.5,585.9L224.8,586.5L225.0,587.1L225.2,587.7L225.5,588.2L225.8,588.8L226.0,589.4L226.2,590.0L226.5,590.5L226.8,591.1L227.0,591.7L227.2,592.2L227.5,592.8L227.8,593.3L228.0,593.9L228.2,594.4L228.5,594.9L228.8,595.5L229.0,596.0L229.2,596.5L229.5,597.1L229.8,597.6L230.0,598.1L230.2,598.6L230.5,599.1L230.8,599.7L231.0,600.2L231.2,600.7L231.5,601.2L231.8,601.6L232.0,602.1L232.2,602.6L232.5,603.1L232.8,603.6L233.0,604.0L233.2,604.5L233.5,604.9L233.8,605.4L234.0,605.8L234.2,606.3L234.8,607.1L235.2,607.9L235.8,608.7L236.2,609.5L236.8,610.2L237.2,611.0L237.8,611.6L238.2,612.3L238.8,612.9L239.2,613.5L239.8,614.0L240.2,614.5L240.8,615.0L241.2,615.4L241.8,615.9L242.2,616.2L242.8,616.6L243.2,616.9L243.8,617.2L244.2,617.5L244.8,617.8L245.2,618.0L245.8,618.2L246.2,618.4L246.8,618.5L247.2,618.7L247.8,618.8L248.2,618.9L248.8,619.0L249.2,619.1L249.8,619.2L250.2,619.3L250.8,619.3L251.2,619.4L251.8,619.4L252.2,619.4L252.8,619.5L253.2,619.5L253.8,619.5L254.2,619.5L254.8,619.5L255.2,619.5L255.8,619.5L256.2,619.5L256.8,619.5L257.2,619.5L257.8,619.5L258.2,619.5L258.8,619.4L259.2,619.4L259.8,619.4L260.2,619.3L260.8,619.3L261.2,619.3L261.8,619.2L262.2,619.2L262.8,619.1L263.2,619.1L263.8,619.1L264.2,619.1L264.8,619.0L265.2,619.0L265.8,619.0L266.2,619.0L266.8,619.0L267.2,619.0L267.8,619.0L268.2,619.0L268.8,619.0L269.2,619.0L269.8,619.1L270.2,619.1L270.8,619.2L271.2,619.2L271.8,619.3L272.2,619.4L272.8,619.5L273.2,619.6L273.8,619.7L274.2,619.8L274.8,619.9L275.2,620.1L275.8,620.2L276.2,620.4L276.8,620.6L277.2,620.8L277.8,620.9L278.2,621.1L278.8,621.4L279.2,621.6L279.8,621.8L280.2,622.1L280.8,622.3L281.2,622.6L281.8,622.8L282.2,623.1L282.8,623.4L283.2,623.7L283.8,624.0L284.2,624.3L284.8,624.7L285.2,625.0L285.8,625.4L286.2,625.7L286.8,626.1L287.2,626.5L287.8,626.9L288.2,627.3L288.8,627.7L289.2,628.1L289.8,628.5L290.2,629.0L290.8,629.4L291.2,629.9L291.8,630.3L292.2,630.8L292.8,631.2L293.2,631.7L293.8,632.2L294.2,632.6L294.8,633.1L295.2,633.6L295.8,634.1L296.2,634.6L296.8,635.0L297.2,635.5L297.8,636.0L298.2,636.5L298.8,637.0L299.2,637.5L299.8,638.0L300.2,638.6L300.8,639.1L301.2,639.6L301.8,640.1L302.2,640.6L302.8,641.2L303.2,641.7L303.8,642.3L304.2,642.8L304.8,643.4L305.2,643.9L305.8,644.5L306.2,645.1L306.8,645.7L307.2,646.3L307.8,646.8L308.2,647.4L308.8,648.0L309.2,648.6L309.8,649.2L310.2,649.8L310.8,650.4L311.2,651.0L311.8,651.6L312.2,652.2L312.8,652.8L313.2,653.4L313.8,654.0L314.2,654.5L314.8,655.1L315.2,655.7L315.8,656.2L316.2,656.8L316.8,657.3L317.2,657.8L317.8,658.4L318.2,658.9L318.8,659.4L319.2,659.9L319.8,660.4L320.2,660.9L320.8,661.4L321.2,661.8L321.8,662.3L322.2,662.8L322.8,663.2L323.2,663.7L323.8,664.1L324.2,664.6L324.8,665.0L325.2,665.4L325.8,665.9L326.2,666.3L326.8,666.8L327.2,667.2L327.8,667.6L328.2,668.1L328.8,668.5L329.2,668.9L329.8,669.4L330.2,669.8L330.8,670.2L331.2,670.6L331.8,671.1L332.2,671.5L332.8,671.9L333.2,672.3L333.8,672.7L334.2,673.2L334.8,673.6L335.2,674.0L335.8,674.4L336.2,674.8L336.8,675.2L337.2,675.6L337.8,675.9L338.2,676.3L338.8,676.7L339.2,677.1L339.8,677.4L340.2,677.8L340.8,678.2L341.2,678.5L341.8,678.9L342.2,679.2L342.8,679.5L343.2,679.9L343.8,680.2L344.2,680.5L344.8,680.9L345.2,681.2L345.8,681.5L346.2,681.8L346.8,682.2L347.2,682.5L347.8,682.8L348.2,683.1L348.8,683.4L349.2,683.7L349.8,684.0L350.2,684.3L350.8,684.6L351.2,684.9L351.8,685.2L352.2,685.5L352.8,685.8L353.2,686.1L353.8,686.4L354.2,686.7L354.8,687.0L355.2,687.3L355.8,687.6L356.2,687.9L356.8,688.2L357.2,688.5L357.8,688.8L358.2,689.0L358.8,689.3L359.2,689.6L359.8,689.9L360.2,690.2L360.8,690.5L361.2,690.7L361.8,691.0L362.2,691.3L362.8,691.6L363.2,691.9L363.8,692.1L364.2,692.4L364.8,692.7L365.2,692.9L365.8,693.2L366.2,693.5L366.8,693.7L367.2,694.0L367.8,694.2L368.2,694.5L368.8,694.8L369.2,695.0L369.8,695.2L370.2,695.5L370.8,695.7L371.2,696.0L371.8,696.2L372.2,696.4L372.8,696.6L373.2,696.8L373.8,697.0L374.2,697.2L374.8,697.4L375.2,697.6L375.8,697.8L376.2,698.0L376.8,698.2L377.2,698.3L377.8,698.5L378.2,698.7L378.8,698.8L379.2,699.0L379.8,699.1L380.2,699.3L380.8,699.4L381.2,699.6L381.8,699.7L382.2,699.9L382.8,700.0L383.2,700.2L383.8,700.3L384.2,700.4L384.8,700.6L385.2,700.7L385.8,700.8L386.2,701.0L386.8,701.1L387.2,701.2L387.8,701.4L388.2,701.5L388.8,701.7L389.2,701.8L389.8,701.9L390.2,702.1L390.8,702.2L391.2,702.3L391.8,702.5L392.2,702.6L392.8,702.7L393.2,702.9L393.8,703.0L394.2,703.1L394.8,703.3L395.2,703.4L395.8,703.5L396.2,703.7L396.8,703.8L397.2,703.9L397.8,704.0L398.2,704.2L398.8,704.3L399.2,704.5L399.8,704.6L401.0,704.9L402.0,705.2L403.0,705.6L404.0,705.9L405.0,706.3L406.0,706.6L407.0,707.1L408.0,707.5L409.0,708.0L410.0,708.4L411.0,709.0L412.0,709.5L413.0,710.0L414.0,710.6L415.0,711.1L416.0,711.6L417.0,712.2L418.0,712.7L419.0,713.2L420.0,713.7L421.0,714.1L422.0,714.5L423.0,714.9L424.0,715.3L425.0,715.6L426.0,715.9L427.0,716.2L428.0,716.4L429.0,716.7L430.0,716.9L431.0,717.0L432.0,717.2L433.0,717.4L434.0,717.5L435.0,717.7L436.0,717.8L437.0,717.9L438.0,718.1L439.0,718.2L440.0,718.3L441.0,718.4L442.0,718.5L443.0,718.6L444.0,718.7L445.0,718.8L446.0,718.9L447.0,718.9L448.0,718.9L449.0,719.0L450.0,718.9L451.0,718.9L452.0,718.9L453.0,718.8L454.0,718.7L455.0,718.6L456.0,718.4L457.0,718.3L458.0,718.1L459.0,717.9L460.0,717.8L461.0,717.6L462.0,717.4L463.0,717.2L464.0,717.0L465.0,716.8L466.0,716.6L467.0,716.4L468.0,716.2L469.0,716.0L470.0,715.9L471.0,715.7L472.0,715.6L473.0,715.4L474.0,715.3L475.0,715.1L476.0,715.0L477.0,714.8L478.0,714.6L479.0,714.5L480.0,714.3L481.0,714.1L482.0,713.9L483.0,713.7L484.0,713.5L485.0,713.3L486.0,713.2L487.0,713.0L488.0,712.8L489.0,712.6L490.0,712.5L491.0,712.3L492.0,712.2L493.0,712.1L494.0,712.1L495.0,712.1L496.0,712.1L497.0,712.1L498.0,712.1L499.0,712.2L500.0,712.3L501.0,712.4L502.0,712.6L503.0,712.7L504.0,712.9L505.0,713.1L506.0,713.3L507.0,713.5L508.0,713.8L509.0,714.0L510.0,714.2L511.0,714.4L512.0,714.7L513.0,714.9L514.0,715.1L515.0,715.4L516.0,715.6L517.0,715.9L518.0,716.1L519.0,716.3L520.0,716.6L521.0,716.8L522.0,717.0L523.0,717.2L524.0,717.5L525.0,717.6L526.0,717.8L527.0,718.0L528.0,718.2L529.0,718.3L530.0,718.4L531.0,718.6L532.0,718.7L533.0,718.7L534.0,718.8L535.0,718.9L536.0,718.9L537.0,719.0L538.0,719.0L539.0,719.0L540.0,719.0L541.0,719.0L542.0,719.0L543.0,719.0L544.0,718.9L545.0,718.9L546.0,718.8L547.0,718.8L548.0,718.7L549.0,718.7L550.0,718.6L551.0,718.5L552.0,718.5L553.0,718.4L554.0,718.3L555.0,718.2L556.0,718.2L557.0,718.1L558.0,718.0L559.0,718.0L560.0,717.9L561.0,717.8L562.0,717.8L563.0,717.7L564.0,717.7L565.0,717.7L566.0,717.7L567.0,717.7L568.0,717.7L569.0,717.8L570.0,717.8L571.0,717.9L572.0,717.9L573.0,718.0L574.0,718.1L575.0,718.2L576.0,718.3L577.0,718.4L578.0,718.6L579.0,718.7L580.0,718.8L581.0,718.9L582.0,719.0L583.0,719.1L584.0,719.3L585.0,719.4L586.0,719.5L587.0,719.5L588.0,719.6L589.0,719.7L590.0,719.8L591.0,719.9L592.0,719.9L593.0,720.0L594.0,720.0L595.0,720.1L596.0,720.1L597.0,720.2L598.0,720.2L599.0,720.3L600.0,720.3L601.0,720.4L602.0,720.4L603.0,720.4L604.0,720.5L605.0,720.5L606.0,720.6L607.0,720.6L608.0,720.6L609.0,720.7L610.0,720.7L611.0,720.7L612.0,720.8L613.0,720.8L614.0,720.8L615.0,720.8L616.0,720.9L617.0,720.9L618.0,720.9L619.0,720.9L620.0,720.9L621.0,720.9L622.0,721.0L623.0,721.0L624.0,721.0L625.0,721.0L626.0,721.0L627.0,721.0L628.0,721.0L629.0,721.0L630.0,721.0L631.0,721.0L632.0,721.0L633.0,721.0L634.0,721.0L635.0,721.0L636.0,721.0L637.0,721.0L638.0,721.0L639.0,721.0L640.0,721.0L641.0,721.0L642.0,721.0L643.0,721.0L644.0,721.0L645.0,721.0L646.0,721.0L647.0,721.0L648.0,721.0L649.0,721.0L650.0,721.0L651.0,721.0L652.0,721.0L653.0,721.0L654.0,721.0L655.0,721.0L656.0,721.0L657.0,721.0L658.0,721.0L659.0,721.0L660.0,721.0L661.0,721.0L662.0,721.0L663.0,721.0L664.0,721.0L665.0,721.0L666.0,721.0L667.0,721.0L668.0,721.0L669.0,721.0L670.0,721.0L671.0,721.0L672.0,721.0L673.0,721.0L674.0,721.0L675.0,721.0L676.0,721.0L677.0,721.0L678.0,721.0L679.0,721.0L680.0,721.0L681.0,721.0L682.0,721.0L683.0,721.0L684.0,721.0L685.0,721.0L686.0,721.0L687.0,721.0L688.0,721.0L689.0,721.0L690.0,721.0L691.0,721.0L692.0,721.0L693.0,721.0L694.0,721.0L695.0,721.0L696.0,721.0L697.0,721.0L698.0,721.0L699.0,721.0L700.0,721.0L702.0,721.0L704.0,721.0L706.0,721.0L708.0,721.0L710.0,721.0L712.0,721.0L714.0,721.0L716.0,721.0L718.0,721.0L720.0,721.0L722.0,721.0L724.0,721.0L726.0,721.0L728.0,721.0L730.0,721.0L732.0,721.0L734.0,721.0L736.0,721.0L738.0,721.0L740.0,721.0L742.0,721.0L744.0,721.0L746.0,721.0L748.0,721.0L750.0,721.0L752.0,721.0L754.0,721.0L756.0,721.0L758.0,721.0L760.0,721.0L762.0,721.0L764.0,721.0L766.0,721.0L768.0,721.0L770.0,721.0L772.0,721.0L774.0,721.0L776.0,721.0L778.0,721.0L780.0,721.0L782.0,721.0L784.0,721.0L786.0,721.0L788.0,721.0L790.0,721.0L792.0,721.0L794.0,721.0L796.0,721.0L798.0,721.0L800.0,721.0L802.0,721.0L804.0,721.0L806.0,721.0L808.0,721.0L810.0,721.0L812.0,721.0L814.0,721.0L816.0,721.0L818.0,721.0L820.0,721.0L822.0,721.0L824.0,721.0L826.0,721.0L828.0,721.0L830.0,721.0L832.0,721.0L834.0,721.0L836.0,721.0L838.0,721.0L840.0,721.0L842.0,721.0L844.0,721.0L846.0,721.0L848.0,721.0L850.0,721.0L852.0,721.0L854.0,721.0L856.0,721.0L858.0,721.0L860.0,721.0L862.0,721.0L864.0,721.0L866.0,721.0L868.0,721.0L870.0,721.0L872.0,721.0L874.0,721.0L876.0,721.0L878.0,721.0L880.0,721.0L882.0,721.0L884.0,721.0L886.0,721.0L888.0,721.0L890.0,721.0L892.0,721.0L894.0,721.0L896.0,721.0L898.0,721.0L900.0,721.0L902.0,721.0L904.0,721.0L906.0,721.0L908.0,721.0L910.0,721.0L912.0,721.0L914.0,721.0L916.0,721.0L918.0,721.0L920.0,721.0L922.0,721.0L924.0,721.0L926.0,721.0L928.0,721.0L930.0,721.0L932.0,721.0L934.0,721.0L936.0,721.0L938.0,721.0L940.0,721.0L942.0,720.9L944.0,720.9L946.0,720.9L948.0,720.8L950.0,720.8L952.0,720.7L954.0,720.7L956.0,720.6L958.0,720.4L960.0,720.3L962.0,720.1L964.0,720.0L966.0,719.8L968.0,719.6L970.0,719.3L972.0,719.1L974.0,718.9L976.0,718.6L978.0,718.4L980.0,718.2L982.0,718.0L984.0,717.8L986.0,717.7L988.0,717.6L990.0,717.6L992.0,717.6L994.0,717.7L996.0,717.8L998.0,717.9L1000.0,718.1L1002.0,718.3L1004.0,718.5L1006.0,718.8L1008.0,719.0L1010.0,719.3L1012.0,719.5L1014.0,719.7L1016.0,719.9L1018.0,720.1L1020.0,720.3L1022.0,720.4L1024.0,720.5L1026.0,720.6L1028.0,720.7L1030.0,720.8L1032.0,720.8L1034.0,720.9L1036.0,720.9L1038.0,720.9L1040.0,721.0L1042.0,721.0L1044.0,721.0L1046.0,721.0L1048.0,721.0L1050.0,721.0L1052.0,721.0L1054.0,721.0L1056.0,721.0L1058.0,721.0L1060.0,721.0L1062.0,721.0L1064.0,721.0L1066.0,721.0L1068.0,721.0L1070.0,721.0L1072.0,721.0L1074.0,721.0L1076.0,721.0L1078.0,721.0L1080.0,721.0L1082.0,721.0L1084.0,721.0L1086.0,721.0L1088.0,721.0L1090.0,721.0L1092.0,721.0L1094.0,721.0L1096.0,721.0L1098.0,721.0L1100.0,721.0L1102.0,721.0L1104.0,721.0L1106.0,721.0L1108.0,721.0L1110.0,721.0L1112.0,721.0L1114.0,721.0L1116.0,721.0L1118.0,721.0L1120.0,721.0L1122.0,721.0L1124.0,721.0L1126.0,721.0L1128.0,721.0L1130.0,721.0L1132.0,721.0L1134.0,721.0L1136.0,721.0L1138.0,721.0L1140.0,721.0L1142.0,721.0L1144.0,721.0L1146.0,721.0L1148.0,721.0L1150.0,721.0L1152.0,721.0L1154.0,721.0L1156.0,721.0L1158.0,721.0L1160.0,721.0L1162.0,721.0L1164.0,721.0L1166.0,721.0L1168.0,721.0L1170.0,721.0L1172.0,721.0L1174.0,721.0L1176.0,721.0L1178.0,721.0L1180.0,721.0L1182.0,721.0L1184.0,721.0L1186.0,721.0L1188.0,721.0L1190.0,721.0L1192.0,721.0L1194.0,721.0L1196.0,721.0L1198.0,721.0L1200.0,721.0L1202.0,721.0L1204.0,721.0L1206.0,721.0L1208.0,721.0L1210.0,721.0L1212.0,721.0L1214.0,721.0L1216.0,721.0L1218.0,721.0L1220.0,721.0L1222.0,721.0L1224.0,721.0L1226.0,721.0L1228.0,721.0L1230.0,721.0L1232.0,721.0L1234.0,721.0L1236.0,720.9L1238.0,720.9L1240.0,720.9L1242.0,720.9L1244.0,720.9L1246.0,720.9L1248.0,720.9L1250.0,720.8L1252.0,720.8L1254.0,720.8L1256.0,720.7L1258.0,720.7L1260.0,720.7L1262.0,720.6L1264.0,720.6L1266.0,720.5L1268.0,720.5L1270.0,720.4L1272.0,720.3L1274.0,720.2L1276.0,720.2L1278.0,720.1L1280.0,720.0L1282.0,719.9L1284.0,719.8L1286.0,719.8L1288.0,719.7L1290.0,719.6L1292.0,719.5L1294.0,719.4L1296.0,719.3L1298.0,719.2L1300.0,719.2L1302.0,719.1L1304.0,719.0L1306.0,719.0L1308.0,718.9L1310.0,718.9L1312.0,718.8L1314.0,718.8L1314.4,718.8" fill="none" stroke="#000" stroke-width="2.84" stroke-linejoin="round"/>
<path d="M62.0,656.6L62.2,655.8L62.5,655.0L62.8,654.2L63.0,653.3L63.2,652.4L63.5,651.5L63.8,650.5L64.0,649.6L64.2,648.6L64.5,647.6L64.8,646.5L65.0,645.5L65.2,644.4L65.5,643.3L65.8,642.2L66.0,641.1L66.2,639.9L66.5,638.8L66.8,637.6L67.0,636.4L67.2,635.1L67.5,633.9L67.8,632.7L68.0,631.4L68.2,630.1L68.5,628.8L68.8,627.5L69.0,626.2L69.2,624.8L69.5,623.5L69.8,622.1L70.0,620.8L70.2,619.4L70.5,618.0L70.8,616.6L71.0,615.2L71.2,613.8L71.5,612.4L71.8,610.9L72.0,609.5L72.2,608.0L72.5,606.6L72.8,605.1L73.0,603.6L73.2,602.2L73.5,600.7L73.8,599.2L74.0,597.7L74.2,596.2L74.5,594.7L74.8,593.2L75.0,591.7L75.2,590.1L75.5,588.6L75.8,587.1L76.0,585.5L76.2,584.0L76.5,582.5L76.8,580.9L77.0,579.3L77.2,577.8L77.5,576.2L77.8,574.6L78.0,573.0L78.2,571.5L78.5,569.9L78.8,568.3L79.0,566.7L79.2,565.1L79.5,563.4L79.8,561.8L80.0,560.2L80.2,558.6L80.5,556.9L80.8,555.3L81.0,553.6L81.2,551.9L81.5,550.3L81.8,548.6L82.0,546.9L82.2,545.2L82.5,543.5L82.8,541.8L83.0,540.1L83.2,538.3L83.5,536.6L83.8,534.9L84.0,533.1L84.2,531.3L84.5,529.6L84.8,527.8L85.0,526.0L85.2,524.2L85.5,522.4L85.8,520.5L86.0,518.7L86.2,516.9L86.5,515.0L86.8,513.1L87.0,511.3L87.2,509.4L87.5,507.5L87.8,505.6L88.0,503.6L88.2,501.7L88.5,499.8L88.8,497.8L89.0,495.9L89.2,493.9L89.5,491.9L89.8,489.9L90.0,487.9L90.2,485.9L90.5,483.9L90.8,481.9L91.0,479.9L91.2,477.8L91.5,475.8L91.8,473.7L92.0,471.6L92.2,469.5L92.5,467.5L92.8,465.4L93.0,463.3L93.2,461.2L93.5,459.0L93.8,456.9L94.0,454.8L94.2,452.7L94.5,450.5L94.8,448.4L95.0,446.2L95.2,444.1L95.5,441.9L95.8,439.8L96.0,437.6L96.2,435.4L96.5,433.3L96.8,431.1L97.0,428.9L97.2,426.7L97.5,424.5L97.8,422.4L98.0,420.2L98.2,418.0L98.5,415.8L98.8,413.6L99.0,411.4L99.2,409.3L99.5,407.1L99.8,404.9L100.0,402.7L100.2,400.5L100.5,398.4L100.8,396.2L101.0,394.0L101.2,391.9L101.5,389.7L101.8,387.6L102.0,385.4L102.2,383.3L102.5,381.1L102.8,379.0L103.0,376.9L103.2,374.8L103.5,372.6L103.8,370.5L104.0,368.4L104.2,366.4L104.5,364.3L104.8,362.2L105.0,360.1L105.2,358.1L105.5,356.0L105.8,354.0L106.0,352.0L106.2,349.9L106.5,347.9L106.8,345.9L107.0,343.9L107.2,341.9L107.5,340.0L107.8,338.0L108.0,336.1L108.2,334.1L108.5,332.2L108.8,330.3L109.0,328.4L109.2,326.5L109.5,324.6L109.8,322.8L110.0,320.9L110.2,319.1L110.5,317.2L110.8,315.4L111.0,313.6L111.2,311.8L111.5,310.0L111.8,308.2L112.0,306.5L112.2,304.7L112.5,303.0L112.8,301.3L113.0,299.6L113.2,297.9L113.5,296.2L113.8,294.5L114.0,292.8L114.2,291.2L114.5,289.5L114.8,287.9L115.0,286.3L115.2,284.7L115.5,283.1L115.8,281.5L116.0,279.9L116.2,278.4L116.5,276.8L116.8,275.3L117.0,273.8L117.2,272.2L117.5,270.7L117.8,269.2L118.0,267.7L118.2,266.3L118.5,264.8L118.8,263.3L119.0,261.9L119.2,260.5L119.5,259.0L119.8,257.6L120.0,256.2L120.2,254.8L120.5,253.4L120.8,252.1L121.0,250.7L121.2,249.4L121.5,248.0L121.8,246.7L122.0,245.3L122.2,244.0L122.5,242.7L122.8,241.4L123.0,240.2L123.2,238.9L123.5,237.6L123.8,236.4L124.0,235.1L124.2,233.9L124.5,232.7L124.8,231.5L125.0,230.3L125.2,229.1L125.5,227.9L125.8,226.8L126.0,225.6L126.2,224.5L126.5,223.3L126.8,222.2L127.0,221.1L127.2,220.0L127.5,219.0L127.8,217.9L128.0,216.9L128.2,215.8L128.5,214.8L128.8,213.8L129.0,212.8L129.2,211.8L129.5,210.9L129.8,209.9L130.0,209.0L130.2,208.1L130.5,207.1L130.8,206.3L131.0,205.4L131.2,204.5L131.5,203.7L131.8,202.8L132.0,202.0L132.2,201.2L132.5,200.5L132.8,199.7L133.0,198.9L133.2,198.2L133.5,197.5L133.8,196.8L134.0,196.1L134.2,195.5L134.5,194.8L134.8,194.2L135.0,193.6L135.2,193.0L135.5,192.4L135.8,191.8L136.0,191.2L136.2,190.7L136.5,190.2L136.8,189.7L137.0,189.2L137.2,188.7L137.5,188.3L137.8,187.8L138.2,187.0L138.8,186.2L139.2,185.5L139.8,184.9L140.2,184.3L140.8,183.7L141.2,183.2L141.8,182.8L142.2,182.4L142.8,182.1L143.2,181.8L143.8,181.5L144.2,181.3L144.8,181.1L145.2,181.0L145.8,180.9L146.2,180.8L146.8,180.8L147.2,180.8L147.8,180.8L148.2,180.9L148.8,181.0L149.2,181.1L149.8,181.3L150.2,181.5L150.8,181.7L151.2,181.9L151.8,182.2L152.2,182.5L152.8,182.8L153.2,183.2L153.8,183.6L154.2,184.0L154.8,184.4L155.2,184.9L155.8,185.4L156.2,186.0L156.8,186.5L157.2,187.1L157.8,187.8L158.2,188.5L158.8,189.2L159.2,190.0L159.8,190.8L160.2,191.6L160.8,192.5L161.0,192.9L161.2,193.4L161.5,193.9L161.8,194.3L162.0,194.8L162.2,195.3L162.5,195.8L162.8,196.4L163.0,196.9L163.2,197.4L163.5,198.0L163.8,198.5L164.0,199.1L164.2,199.7L164.5,200.3L164.8,200.9L165.0,201.5L165.2,202.1L165.5,202.7L165.8,203.4L166.0,204.0L166.2,204.6L166.5,205.3L166.8,206.0L167.0,206.6L167.2,207.3L167.5,208.0L167.8,208.7L168.0,209.4L168.2,210.1L168.5,210.8L168.8,211.5L169.0,212.3L169.2,213.0L169.5,213.8L169.8,214.5L170.0,215.3L170.2,216.0L170.5,216.8L170.8,217.6L171.0,218.3L171.2,219.1L171.5,219.9L171.8,220.7L172.0,221.5L172.2,222.3L172.5,223.1L172.8,223.9L173.0,224.7L173.2,225.6L173.5,226.4L173.8,227.2L174.0,228.1L174.2,228.9L174.5,229.7L174.8,230.6L175.0,231.4L175.2,232.3L175.5,233.2L175.8,234.0L176.0,234.9L176.2,235.8L176.5,236.7L176.8,237.6L177.0,238.5L177.2,239.4L177.5,240.3L177.8,241.2L178.0,242.1L178.2,243.0L178.5,243.9L178.8,244.9L179.0,245.8L179.2,246.8L179.5,247.7L179.8,248.7L180.0,249.6L180.2,250.6L180.5,251.6L180.8,252.5L181.0,253.5L181.2,254.5L181.5,255.5L181.8,256.5L182.0,257.5L182.2,258.5L182.5,259.6L182.8,260.6L183.0,261.6L183.2,262.7L183.5,263.7L183.8,264.8L184.0,265.8L184.2,266.9L184.5,268.0L184.8,269.0L185.0,270.1L185.2,271.2L185.5,272.3L185.8,273.4L186.0,274.5L186.2,275.6L186.5,276.7L186.8,277.9L187.0,279.0L187.2,280.1L187.5,281.3L187.8,282.4L188.0,283.5L188.2,284.7L188.5,285.8L188.8,287.0L189.0,288.2L189.2,289.3L189.5,290.5L189.8,291.7L190.0,292.8L190.2,294.0L190.5,295.2L190.8,296.3L191.0,297.5L191.2,298.7L191.5,299.9L191.8,301.1L192.0,302.2L192.2,303.4L192.5,304.6L192.8,305.8L193.0,307.0L193.2,308.2L193.5,309.4L193.8,310.5L194.0,311.7L194.2,312.9L194.5,314.1L194.8,315.3L195.0,316.4L195.2,317.6L195.5,318.8L195.8,320.0L196.0,321.1L196.2,322.3L196.5,323.5L196.8,324.7L197.0,325.8L197.2,327.0L197.5,328.2L197.8,329.3L198.0,330.5L198.2,331.6L198.5,332.8L198.8,334.0L199.0,335.1L199.2,336.3L199.5,337.4L199.8,338.6L200.0,339.7L200.2,340.9L200.5,342.0L200.8,343.1L201.0,344.3L201.2,345.4L201.5,346.6L201.8,347.7L202.0,348.9L202.2,350.0L202.5,351.1L202.8,352.3L203.0,353.4L203.2,354.5L203.5,355.7L203.8,356.8L204.0,357.9L204.2,359.1L204.5,360.2L204.8,361.3L205.0,362.5L205.2,363.6L205.5,364.7L205.8,365.9L206.0,367.0L206.2,368.1L206.5,369.2L206.8,370.4L207.0,371.5L207.2,372.6L207.5,373.7L207.8,374.9L208.0,376.0L208.2,377.1L208.5,378.2L208.8,379.4L209.0,380.5L209.2,381.6L209.5,382.7L209.8,383.9L210.0,385.0L210.2,386.1L210.5,387.2L210.8,388.3L211.0,389.4L211.2,390.6L211.5,391.7L211.8,392.8L212.0,393.9L212.2,395.0L212.5,396.1L212.8,397.2L213.0,398.3L213.2,399.4L213.5,400.5L213.8,401.6L214.0,402.7L214.2,403.8L214.5,404.9L214.8,406.0L215.0,407.0L215.2,408.1L215.5,409.2L215.8,410.3L216.0,411.3L216.2,412.4L216.5,413.5L216.8,414.5L217.0,415.6L217.2,416.7L217.5,417.7L217.8,418.8L218.0,419.8L218.2,420.9L218.5,421.9L218.8,422.9L219.0,424.0L219.2,425.0L219.5,426.0L219.8,427.1L220.0,428.1L220.2,429.1L220.5,430.1L220.8,431.1L221.0,432.1L221.2,433.2L221.5,434.2L221.8,435.2L222.0,436.2L222.2,437.1L222.5,438.1L222.8,439.1L223.0,440.1L223.2,441.1L223.5,442.1L223.8,443.0L224.0,444.0L224.2,445.0L224.5,445.9L224.8,446.9L225.0,447.8L225.2,448.8L225.5,449.7L225.8,450.7L226.0,451.6L226.2,452.6L226.5,453.5L226.8,454.4L227.0,455.4L227.2,456.3L227.5,457.2L227.8,458.1L228.0,459.0L228.2,459.9L228.5,460.8L228.8,461.8L229.0,462.7L229.2,463.5L229.5,464.4L229.8,465.3L230.0,466.2L230.2,467.1L230.5,468.0L230.8,468.8L231.0,469.7L231.2,470.6L231.5,471.5L231.8,472.3L232.0,473.2L232.2,474.0L232.5,474.9L232.8,475.7L233.0,476.6L233.2,477.4L233.5,478.2L233.8,479.1L234.0,479.9L234.2,480.7L234.5,481.6L234.8,482.4L235.0,483.2L235.2,484.0L235.5,484.8L235.8,485.6L236.0,486.5L236.2,487.3L236.5,488.1L236.8,488.9L237.0,489.7L237.2,490.4L237.5,491.2L237.8,492.0L238.0,492.8L238.2,493.6L238.5,494.4L238.8,495.2L239.0,495.9L239.2,496.7L239.5,497.5L239.8,498.3L240.0,499.0L240.2,499.8L240.5,500.6L240.8,501.3L241.0,502.1L241.2,502.8L241.5,503.6L241.8,504.4L242.0,505.1L242.2,505.9L242.5,506.6L242.8,507.4L243.0,508.1L243.2,508.8L243.5,509.6L243.8,510.3L244.0,511.1L244.2,511.8L244.5,512.5L244.8,513.3L245.0,514.0L245.2,514.7L245.5,515.4L245.8,516.2L246.0,516.9L246.2,517.6L246.5,518.3L246.8,519.0L247.0,519.7L247.2,520.4L247.5,521.1L247.8,521.8L248.0,522.5L248.2,523.2L248.5,523.9L248.8,524.6L249.0,525.3L249.2,526.0L249.5,526.6L249.8,527.3L250.0,528.0L250.2,528.6L250.5,529.3L250.8,530.0L251.0,530.6L251.2,531.3L251.5,531.9L251.8,532.6L252.0,533.2L252.2,533.8L252.5,534.5L252.8,535.1L253.0,535.7L253.2,536.3L253.5,537.0L253.8,537.6L254.0,538.2L254.2,538.8L254.5,539.4L254.8,540.0L255.0,540.6L255.2,541.2L255.5,541.8L255.8,542.4L256.0,543.0L256.2,543.6L256.5,544.1L256.8,544.7L257.0,545.3L257.2,545.9L257.5,546.4L257.8,547.0L258.0,547.6L258.2,548.1L258.5,548.7L258.8,549.3L259.0,549.8L259.2,550.4L259.5,551.0L259.8,551.5L260.0,552.1L260.2,552.7L260.5,553.2L260.8,553.8L261.0,554.4L261.2,554.9L261.5,555.5L261.8,556.0L262.0,556.6L262.2,557.2L262.5,557.7L262.8,558.3L263.0,558.9L263.2,559.4L263.5,560.0L263.8,560.6L264.0,561.2L264.2,561.7L264.5,562.3L264.8,562.9L265.0,563.5L265.2,564.1L265.5,564.7L265.8,565.3L266.0,565.8L266.2,566.4L266.5,567.0L266.8,567.6L267.0,568.2L267.2,568.8L267.5,569.4L267.8,570.0L268.0,570.6L268.2,571.2L268.5,571.8L268.8,572.5L269.0,573.1L269.2,573.7L269.5,574.3L269.8,574.9L270.0,575.5L270.2,576.1L270.5,576.7L270.8,577.4L271.0,578.0L271.2,578.6L271.5,579.2L271.8,579.8L272.0,580.4L272.2,581.0L272.5,581.7L272.8,582.3L273.0,582.9L273.2,583.5L273.5,584.1L273.8,584.7L274.0,585.3L274.2,585.9L274.5,586.5L274.8,587.1L275.0,587.7L275.2,588.3L275.5,588.9L275.8,589.5L276.0,590.1L276.2,590.7L276.5,591.3L276.8,591.9L277.0,592.5L277.2,593.1L277.5,593.7L277.8,594.2L278.0,594.8L278.2,595.4L278.5,596.0L278.8,596.5L279.0,597.1L279.2,597.7L279.5,598.2L279.8,598.8L280.0,599.4L280.2,599.9L280.5,600.5L280.8,601.0L281.0,601.6L281.2,602.1L281.5,602.7L281.8,603.2L282.0,603.8L282.2,604.3L282.5,604.9L282.8,605.4L283.0,606.0L283.2,606.5L283.5,607.1L283.8,607.6L284.0,608.2L284.2,608.7L284.5,609.2L284.8,609.8L285.0,610.3L285.2,610.9L285.5,611.4L285.8,612.0L286.0,612.5L286.2,613.1L286.5,613.6L286.8,614.2L287.0,614.8L287.2,615.3L287.5,615.9L287.8,616.4L288.0,617.0L288.2,617.6L288.5,618.1L288.8,618.7L289.0,619.3L289.2,619.8L289.5,620.4L289.8,621.0L290.0,621.5L290.2,622.1L290.5,622.7L290.8,623.3L291.0,623.9L291.2,624.4L291.5,625.0L291.8,625.6L292.0,626.2L292.2,626.8L292.5,627.4L292.8,627.9L293.0,628.5L293.2,629.1L293.5,629.7L293.8,630.3L294.0,630.9L294.2,631.5L294.5,632.1L294.8,632.7L295.0,633.3L295.2,633.8L295.5,634.4L295.8,635.0L296.0,635.6L296.2,636.2L296.5,636.8L296.8,637.3L297.0,637.9L297.2,638.5L297.5,639.1L297.8,639.6L298.0,640.2L298.2,640.8L298.5,641.3L298.8,641.9L299.0,642.5L299.2,643.0L299.5,643.6L299.8,644.1L300.0,644.7L300.2,645.2L300.5,645.7L300.8,646.3L301.0,646.8L301.2,647.3L301.5,647.8L301.8,648.4L302.0,648.9L302.2,649.4L302.5,649.9L302.8,650.4L303.0,650.9L303.2,651.4L303.5,651.8L303.8,652.3L304.0,652.8L304.2,653.3L304.5,653.7L304.8,654.2L305.0,654.6L305.2,655.1L305.5,655.5L305.8,656.0L306.0,656.4L306.2,656.9L306.8,657.7L307.2,658.6L307.8,659.4L308.2,660.2L308.8,661.0L309.2,661.8L309.8,662.5L310.2,663.3L310.8,664.1L311.2,664.8L311.8,665.5L312.2,666.2L312.8,666.9L313.2,667.6L313.8,668.3L314.2,669.0L314.8,669.7L315.2,670.3L315.8,671.0L316.2,671.6L316.8,672.3L317.2,672.9L317.8,673.5L318.2,674.1L318.8,674.7L319.2,675.3L319.8,675.9L320.2,676.4L320.8,677.0L321.2,677.6L321.8,678.1L322.2,678.6L322.8,679.1L323.2,679.6L323.8,680.1L324.2,680.6L324.8,681.1L325.2,681.5L325.8,682.0L326.2,682.4L326.8,682.8L327.2,683.2L327.8,683.6L328.2,684.0L328.8,684.4L329.2,684.7L329.8,685.1L330.2,685.4L330.8,685.7L331.2,686.0L331.8,686.3L332.2,686.6L332.8,686.9L333.2,687.2L333.8,687.5L334.2,687.8L334.8,688.0L335.2,688.3L335.8,688.5L336.2,688.7L336.8,689.0L337.2,689.2L337.8,689.4L338.2,689.6L338.8,689.9L339.2,690.1L339.8,690.3L340.2,690.4L340.8,690.6L341.2,690.8L341.8,691.0L342.2,691.2L342.8,691.3L343.2,691.5L343.8,691.6L344.2,691.8L344.8,691.9L345.2,692.1L345.8,692.2L346.2,692.3L346.8,692.5L347.2,692.6L347.8,692.7L348.2,692.8L348.8,692.9L349.2,693.0L349.8,693.1L350.2,693.2L350.8,693.3L351.2,693.4L351.8,693.5L352.2,693.6L352.8,693.7L353.2,693.7L353.8,693.8L354.2,693.9L354.8,694.0L355.2,694.1L355.8,694.2L356.2,694.3L356.8,694.4L357.2,694.4L357.8,694.5L358.2,694.6L358.8,694.7L359.2,694.8L359.8,694.9L360.2,695.0L360.8,695.1L361.2,695.2L361.8,695.3L362.2,695.5L362.8,695.6L363.2,695.7L363.8,695.8L364.2,695.9L364.8,696.0L365.2,696.1L365.8,696.2L366.2,696.3L366.8,696.4L367.2,696.5L367.8,696.6L368.2,696.7L368.8,696.8L369.2,696.9L369.8,697.0L370.2,697.1L370.8,697.2L371.2,697.2L371.8,697.3L372.2,697.4L372.8,697.5L373.2,697.5L373.8,697.6L374.2,697.6L374.8,697.7L375.2,697.8L375.8,697.8L376.2,697.9L376.8,697.9L377.2,698.0L377.8,698.0L378.2,698.1L378.8,698.1L379.2,698.2L379.8,698.2L380.2,698.3L380.8,698.4L381.2,698.4L381.8,698.5L382.2,698.6L382.8,698.6L383.2,698.7L383.8,698.8L384.2,698.9L384.8,699.0L385.2,699.1L385.8,699.2L386.2,699.3L386.8,699.4L387.2,699.5L387.8,699.6L388.2,699.7L388.8,699.8L389.2,699.9L389.8,700.1L390.2,700.2L390.8,700.3L391.2,700.4L391.8,700.5L392.2,700.7L392.8,700.8L393.2,700.9L393.8,701.0L394.2,701.1L394.8,701.3L395.2,701.4L395.8,701.5L396.2,701.6L396.8,701.7L397.2,701.8L397.8,701.9L398.2,702.0L398.8,702.1L399.2,702.2L399.8,702.3L401.0,702.5L402.0,702.7L403.0,702.9L404.0,703.0L405.0,703.2L406.0,703.4L407.0,703.5L408.0,703.7L409.0,703.9L410.0,704.1L411.0,704.3L412.0,704.5L413.0,704.6L414.0,704.8L415.0,705.0L416.0,705.2L417.0,705.4L418.0,705.6L419.0,705.8L420.0,706.0L421.0,706.1L422.0,706.3L423.0,706.5L424.0,706.7L425.0,706.8L426.0,707.0L427.0,707.2L428.0,707.3L429.0,707.5L430.0,707.7L431.0,707.9L432.0,708.0L433.0,708.2L434.0,708.4L435.0,708.6L436.0,708.8L437.0,709.0L438.0,709.2L439.0,709.4L440.0,709.6L441.0,709.7L442.0,709.9L443.0,710.1L444.0,710.3L445.0,710.5L446.0,710.6L447.0,710.8L448.0,711.0L449.0,711.1L450.0,711.3L451.0,711.4L452.0,711.6L453.0,711.8L454.0,711.9L455.0,712.1L456.0,712.3L457.0,712.5L458.0,712.6L459.0,712.8L460.0,713.0L461.0,713.2L462.0,713.4L463.0,713.6L464.0,713.8L465.0,714.0L466.0,714.2L467.0,714.4L468.0,714.5L469.0,714.7L470.0,714.9L471.0,715.1L472.0,715.3L473.0,715.4L474.0,715.6L475.0,715.8L476.0,715.9L477.0,716.1L478.0,716.3L479.0,716.4L480.0,716.6L481.0,716.7L482.0,716.9L483.0,717.1L484.0,717.2L485.0,717.4L486.0,717.5L487.0,717.7L488.0,717.8L489.0,717.9L490.0,718.1L491.0,718.2L492.0,718.4L493.0,718.5L494.0,718.7L495.0,718.8L496.0,718.9L497.0,719.1L498.0,719.2L499.0,719.3L500.0,719.4L501.0,719.6L502.0,719.7L503.0,719.8L504.0,719.9L505.0,720.0L506.0,720.1L507.0,720.2L508.0,720.3L509.0,720.4L510.0,720.4L511.0,720.5L512.0,720.6L513.0,720.6L514.0,720.7L515.0,720.7L516.0,720.8L517.0,720.8L518.0,720.8L519.0,720.8L520.0,720.9L521.0,720.9L522.0,720.9L523.0,720.9L524.0,720.9L525.0,721.0L526.0,721.0L527.0,721.0L528.0,721.0L529.0,721.0L530.0,721.0L531.0,721.0L532.0,721.0L533.0,721.0L534.0,721.0L535.0,721.0L536.0,721.0L537.0,721.0L538.0,721.0L539.0,721.0L540.0,721.0L541.0,721.0L542.0,721.0L543.0,721.0L544.0,721.0L545.0,721.0L546.0,721.0L547.0,721.0L548.0,721.0L549.0,721.0L550.0,721.0L551.0,721.0L552.0,721.0L553.0,721.0L554.0,721.0L555.0,721.0L556.0,721.0L557.0,721.0L558.0,721.0L559.0,721.0L560.0,721.0L561.0,721.0L562.0,721.0L563.0,721.0L564.0,721.0L565.0,721.0L566.0,721.0L567.0,721.0L568.0,721.0L569.0,721.0L570.0,721.0L571.0,721.0L572.0,721.0L573.0,721.0L574.0,721.0L575.0,721.0L576.0,721.0L577.0,721.0L578.0,721.0L579.0,721.0L580.0,721.0L581.0,721.0L582.0,721.0L583.0,721.0L584.0,721.0L585.0,721.0L586.0,721.0L587.0,721.0L588.0,721.0L589.0,721.0L590.0,721.0L591.0,721.0L592.0,721.0L593.0,721.0L594.0,721.0L595.0,721.0L596.0,721.0L597.0,721.0L598.0,721.0L599.0,721.0L600.0,721.0L601.0,721.0L602.0,721.0L603.0,721.0L604.0,721.0L605.0,721.0L606.0,721.0L607.0,721.0L608.0,721.0L609.0,721.0L610.0,721.0L611.0,721.0L612.0,721.0L613.0,721.0L614.0,721.0L615.0,721.0L616.0,721.0L617.0,721.0L618.0,721.0L619.0,721.0L620.0,721.0L621.0,721.0L622.0,721.0L623.0,721.0L624.0,721.0L625.0,721.0L626.0,721.0L627.0,721.0L628.0,721.0L629.0,721.0L630.0,721.0L631.0,721.0L632.0,721.0L633.0,721.0L634.0,721.0L635.0,721.0L636.0,721.0L637.0,721.0L638.0,721.0L639.0,721.0L640.0,721.0L641.0,721.0L642.0,721.0L643.0,721.0L644.0,721.0L645.0,721.0L646.0,721.0L647.0,721.0L648.0,721.0L649.0,721.0L650.0,721.0L651.0,721.0L652.0,721.0L653.0,721.0L654.0,721.0L655.0,721.0L656.0,721.0L657.0,721.0L658.0,721.0L659.0,721.0L660.0,721.0L661.0,721.0L662.0,721.0L663.0,721.0L664.0,721.0L665.0,721.0L666.0,721.0L667.0,721.0L668.0,721.0L669.0,721.0L670.0,721.0L671.0,721.0L672.0,721.0L673.0,721.0L674.0,721.0L675.0,721.0L676.0,721.0L677.0,721.0L678.0,721.0L679.0,721.0L680.0,721.0L681.0,721.0L682.0,721.0L683.0,721.0L684.0,721.0L685.0,721.0L686.0,721.0L687.0,721.0L688.0,721.0L689.0,721.0L690.0,721.0L691.0,721.0L692.0,721.0L693.0,721.0L694.0,721.0L695.0,721.0L696.0,721.0L697.0,721.0L698.0,721.0L699.0,721.0L700.0,721.0L702.0,721.0L704.0,721.0L706.0,721.0L708.0,721.0L710.0,721.0L712.0,721.0L714.0,721.0L716.0,721.0L718.0,721.0L720.0,721.0L722.0,721.0L724.0,721.0L726.0,721.0L728.0,721.0L730.0,721.0L732.0,721.0L734.0,721.0L736.0,721.0L738.0,721.0L740.0,721.0L742.0,721.0L744.0,721.0L746.0,721.0L748.0,721.0L750.0,721.0L752.0,721.0L754.0,721.0L756.0,721.0L758.0,721.0L760.0,721.0L762.0,721.0L764.0,721.0L766.0,721.0L768.0,721.0L770.0,721.0L772.0,721.0L774.0,721.0L776.0,721.0L778.0,721.0L780.0,721.0L782.0,721.0L784.0,721.0L786.0,721.0L788.0,721.0L790.0,721.0L792.0,721.0L794.0,721.0L796.0,721.0L798.0,721.0L800.0,721.0L802.0,721.0L804.0,721.0L806.0,721.0L808.0,721.0L810.0,721.0L812.0,721.0L814.0,721.0L816.0,721.0L818.0,721.0L820.0,721.0L822.0,721.0L824.0,721.0L826.0,721.0L828.0,721.0L830.0,721.0L832.0,721.0L834.0,721.0L836.0,721.0L838.0,721.0L840.0,721.0L842.0,721.0L844.0,721.0L846.0,721.0L848.0,721.0L850.0,721.0L852.0,721.0L854.0,721.0L856.0,721.0L858.0,721.0L860.0,721.0L862.0,721.0L864.0,721.0L866.0,721.0L868.0,721.0L870.0,721.0L872.0,721.0L874.0,721.0L876.0,721.0L878.0,721.0L880.0,721.0L882.0,721.0L884.0,721.0L886.0,721.0L888.0,721.0L890.0,721.0L892.0,721.0L894.0,721.0L896.0,721.0L898.0,721.0L900.0,721.0L902.0,721.0L904.0,721.0L906.0,721.0L908.0,721.0L910.0,721.0L912.0,721.0L914.0,721.0L916.0,721.0L918.0,721.0L920.0,721.0L922.0,721.0L924.0,721.0L926.0,721.0L928.0,721.0L930.0,721.0L932.0,721.0L934.0,721.0L936.0,721.0L938.0,721.0L940.0,721.0L942.0,721.0L944.0,721.0L946.0,721.0L948.0,721.0L950.0,721.0L952.0,721.0L954.0,721.0L956.0,721.0L958.0,721.0L960.0,721.0L962.0,721.0L964.0,721.0L966.0,721.0L968.0,721.0L970.0,721.0L972.0,721.0L974.0,721.0L976.0,721.0L978.0,721.0L980.0,721.0L982.0,721.0L984.0,721.0L986.0,721.0L988.0,721.0L990.0,721.0L992.0,721.0L994.0,721.0L996.0,721.0L998.0,721.0L1000.0,721.0L1002.0,721.0L1004.0,721.0L1006.0,721.0L1008.0,721.0L1010.0,721.0L1012.0,721.0L1014.0,721.0L1016.0,721.0L1018.0,721.0L1020.0,721.0L1022.0,721.0L1024.0,721.0L1026.0,721.0L1028.0,721.0L1030.0,721.0L1032.0,721.0L1034.0,721.0L1036.0,721.0L1038.0,721.0L1040.0,721.0L1042.0,721.0L1044.0,721.0L1046.0,721.0L1048.0,721.0L1050.0,721.0L1052.0,721.0L1054.0,721.0L1056.0,721.0L1058.0,721.0L1060.0,721.0L1062.0,721.0L1064.0,721.0L1066.0,721.0L1068.0,721.0L1070.0,721.0L1072.0,721.0L1074.0,721.0L1076.0,721.0L1078.0,721.0L1080.0,721.0L1082.0,721.0L1084.0,721.0L1086.0,721.0L1088.0,721.0L1090.0,721.0L1092.0,721.0L1094.0,721.0L1096.0,721.0L1098.0,721.0L1100.0,721.0L1102.0,721.0L1104.0,721.0L1106.0,721.0L1108.0,721.0L1110.0,721.0L1112.0,721.0L1114.0,721.0L1116.0,721.0L1118.0,721.0L1120.0,721.0L1122.0,721.0L1124.0,721.0L1126.0,721.0L1128.0,721.0L1130.0,721.0L1132.0,721.0L1134.0,721.0L1136.0,721.0L1138.0,721.0L1140.0,721.0L1142.0,721.0L1144.0,721.0L1146.0,721.0L1148.0,721.0L1150.0,721.0L1152.0,721.0L1154.0,721.0L1156.0,721.0L1158.0,721.0L1160.0,721.0L1162.0,721.0L1164.0,721.0L1166.0,721.0L1168.0,721.0L1170.0,721.0L1172.0,721.0L1174.0,721.0L1176.0,721.0L1178.0,721.0L1180.0,721.0L1182.0,721.0L1184.0,721.0L1186.0,721.0L1188.0,721.0L1190.0,721.0L1192.0,721.0L1194.0,721.0L1196.0,721.0L1198.0,721.0L1200.0,721.0L1202.0,721.0L1204.0,721.0L1206.0,721.0L1208.0,721.0L1210.0,721.0L1212.0,721.0L1214.0,721.0L1216.0,721.0L1218.0,721.0L1220.0,721.0L1222.0,721.0L1224.0,721.0L1226.0,721.0L1228.0,721.0L1230.0,721.0L1232.0,721.0L1234.0,720.9L1236.0,720.9L1238.0,720.9L1240.0,720.9L1242.0,720.8L1244.0,720.8L1246.0,720.8L1248.0,720.7L1250.0,720.7L1252.0,720.6L1254.0,720.5L1256.0,720.4L1258.0,720.3L1260.0,720.2L1262.0,720.1L1264.0,719.9L1266.0,719.8L1268.0,719.6L1270.0,719.5L1272.0,719.3L1274.0,719.1L1276.0,718.9L1278.0,718.8L1280.0,718.6L1282.0,718.5L1284.0,718.3L1286.0,718.2L1288.0,718.1L1290.0,718.0L1292.0,718.0L1294.0,717.9L1296.0,717.9L1298.0,717.9L1300.0,718.0L1302.0,718.0L1304.0,718.1L1306.0,718.2L1308.0,718.3L1310.0,718.5L1312.0,718.6L1314.0,718.8L1314.4,718.8L1314.4,721.0L62.0,721.0Z" fill="rgba(0,191,196,0.4)"/>
<path d="M62.0,656.6L62.2,655.8L62.5,655.0L62.8,654.2L63.0,653.3L63.2,652.4L63.5,651.5L63.8,650.5L64.0,649.6L64.2,648.6L64.5,647.6L64.8,646.5L65.0,645.5L65.2,644.4L65.5,643.3L65.8,642.2L66.0,641.1L66.2,639.9L66.5,638.8L66.8,637.6L67.0,636.4L67.2,635.1L67.5,633.9L67.8,632.7L68.0,631.4L68.2,630.1L68.5,628.8L68.8,627.5L69.0,626.2L69.2,624.8L69.5,623.5L69.8,622.1L70.0,620.8L70.2,619.4L70.5,618.0L70.8,616.6L71.0,615.2L71.2,613.8L71.5,612.4L71.8,610.9L72.0,609.5L72.2,608.0L72.5,606.6L72.8,605.1L73.0,603.6L73.2,602.2L73.5,600.7L73.8,599.2L74.0,597.7L74.2,596.2L74.5,594.7L74.8,593.2L75.0,591.7L75.2,590.1L75.5,588.6L75.8,587.1L76.0,585.5L76.2,584.0L76.5,582.5L76.8,580.9L77.0,579.3L77.2,577.8L77.5,576.2L77.8,574.6L78.0,573.0L78.2,571.5L78.5,569.9L78.8,568.3L79.0,566.7L79.2,565.1L79.5,563.4L79.8,561.8L80.0,560.2L80.2,558.6L80.5,556.9L80.8,555.3L81.0,553.6L81.2,551.9L81.5,550.3L81.8,548.6L82.0,546.9L82.2,545.2L82.5,543.5L82.8,541.8L83.0,540.1L83.2,538.3L83.5,536.6L83.8,534.9L84.0,533.1L84.2,531.3L84.5,529.6L84.8,527.8L85.0,526.0L85.2,524.2L85.5,522.4L85.8,520.5L86.0,518.7L86.2,516.9L86.5,515.0L86.8,513.1L87.0,511.3L87.2,509.4L87.5,507.5L87.8,505.6L88.0,503.6L88.2,501.7L88.5,499.8L88.8,497.8L89.0,495.9L89.2,493.9L89.5,491.9L89.8,489.9L90.0,487.9L90.2,485.9L90.5,483.9L90.8,481.9L91.0,479.9L91.2,477.8L91.5,475.8L91.8,473.7L92.0,471.6L92.2,469.5L92.5,467.5L92.8,465.4L93.0,463.3L93.2,461.2L93.5,459.0L93.8,456.9L94.0,454.8L94.2,452.7L94.5,450.5L94.8,448.4L95.0,446.2L95.2,444.1L95.5,441.9L95.8,439.8L96.0,437.6L96.2,435.4L96.5,433.3L96.8,431.1L97.0,428.9L97.2,426.7L97.5,424.5L97.8,422.4L98.0,420.2L98.2,418.0L98.5,415.8L98.8,413.6L99.0,411.4L99.2,409.3L99.5,407.1L99.8,404.9L100.0,402.7L100.2,400.5L100.5,398.4L100.8,396.2L101.0,394.0L101.2,391.9L101.5,389.7L101.8,387.6L102.0,385.4L102.2,383.3L102.5,381.1L102.8,379.0L103.0,376.9L103.2,374.8L103.5,372.6L103.8,370.5L104.0,368.4L104.2,366.4L104.5,364.3L104.8,362.2L105.0,360.1L105.2,358.1L105.5,356.0L105.8,354.0L106.0,352.0L106.2,349.9L106.5,347.9L106.8,345.9L107.0,343.9L107.2,341.9L107.5,340.0L107.8,338.0L108.0,336.1L108.2,334.1L108.5,332.2L108.8,330.3L109.0,328.4L109.2,326.5L109.5,324.6L109.8,322.8L110.0,320.9L110.2,319.1L110.5,317.2L110.8,315.4L111.0,313.6L111.2,311.8L111.5,310.0L111.8,308.2L112.0,306.5L112.2,304.7L112.5,303.0L112.8,301.3L113.0,299.6L113.2,297.9L113.5,296.2L113.8,294.5L114.0,292.8L114.2,291.2L114.5,289.5L114.8,287.9L115.0,286.3L115.2,284.7L115.5,283.1L115.8,281.5L116.0,279.9L116.2,278.4L116.5,276.8L116.8,275.3L117.0,273.8L117.2,272.2L117.5,270.7L117.8,269.2L118.0,267.7L118.2,266.3L118.5,264.8L118.8,263.3L119.0,261.9L119.2,260.5L119.5,259.0L119.8,257.6L120.0,256.2L120.2,254.8L120.5,253.4L120.8,252.1L121.0,250.7L121.2,249.4L121.5,248.0L121.8,246.7L122.0,245.3L122.2,244.0L122.5,242.7L122.8,241.4L123.0,240.2L123.2,238.9L123.5,237.6L123.8,236.4L124.0,235.1L124.2,233.9L124.5,232.7L124.8,231.5L125.0,230.3L125.2,229.1L125.5,227.9L125.8,226.8L126.0,225.6L126.2,224.5L126.5,223.3L126.8,222.2L127.0,221.1L127.2,220.0L127.5,219.0L127.8,217.9L128.0,216.9L128.2,215.8L128.5,214.8L128.8,213.8L129.0,212.8L129.2,211.8L129.5,210.9L129.8,209.9L130.0,209.0L130.2,208.1L130.5,207.1L130.8,206.3L131.0,205.4L131.2,204.5L131.5,203.7L131.8,202.8L132.0,202.0L132.2,201.2L132.5,200.5L132.8,199.7L133.0,198.9L133.2,198.2L133.5,197.5L133.8,196.8L134.0,196.1L134.2,195.5L134.5,194.8L134.8,194.2L135.0,193.6L135.2,193.0L135.5,192.4L135.8,191.8L136.0,191.2L136.2,190.7L136.5,190.2L136.8,189.7L137.0,189.2L137.2,188.7L137.5,188.3L137.8,187.8L138.2,187.0L138.8,186.2L139.2,185.5L139.8,184.9L140.2,184.3L140.8,183.7L141.2,183.2L141.8,182.8L142.2,182.4L142.8,182.1L143.2,181.8L143.8,181.5L144.2,181.3L144.8,181.1L145.2,181.0L145.8,180.9L146.2,180.8L146.8,180.8L147.2,180.8L147.8,180.8L148.2,180.9L148.8,181.0L149.2,181.1L149.8,181.3L150.2,181.5L150.8,181.7L151.2,181.9L151.8,182.2L152.2,182.5L152.8,182.8L153.2,183.2L153.8,183.6L154.2,184.0L154.8,184.4L155.2,184.9L155.8,185.4L156.2,186.0L156.8,186.5L157.2,187.1L157.8,187.8L158.2,188.5L158.8,189.2L159.2,190.0L159.8,190.8L160.2,191.6L160.8,192.5L161.0,192.9L161.2,193.4L161.5,193.9L161.8,194.3L162.0,194.8L162.2,195.3L162.5,195.8L162.8,196.4L163.0,196.9L163.2,197.4L163.5,198.0L163.8,198.5L164.0,199.1L164.2,199.7L164.5,200.3L164.8,200.9L165.0,201.5L165.2,202.1L165.5,202.7L165.8,203.4L166.0,204.0L166.2,204.6L166.5,205.3L166.8,206.0L167.0,206.6L167.2,207.3L167.5,208.0L167.8,208.7L168.0,209.4L168.2,210.1L168.5,210.8L168.8,211.5L169.0,212.3L169.2,213.0L169.5,213.8L169.8,214.5L170.0,215.3L170.2,216.0L170.5,216.8L170.8,217.6L171.0,218.3L171.2,219.1L171.5,219.9L171.8,220.7L172.0,221.5L172.2,222.3L172.5,223.1L172.8,223.9L173.0,224.7L173.2,225.6L173.5,226.4L173.8,227.2L174.0,228.1L174.2,228.9L174.5,229.7L174.8,230.6L175.0,231.4L175.2,232.3L175.5,233.2L175.8,234.0L176.0,234.9L176.2,235.8L176.5,236.7L176.8,237.6L177.0,238.5L177.2,239.4L177.5,240.3L177.8,241.2L178.0,242.1L178.2,243.0L178.5,243.9L178.8,244.9L179.0,245.8L179.2,246.8L179.5,247.7L179.8,248.7L180.0,249.6L180.2,250.6L180.5,251.6L180.8,252.5L181.0,253.5L181.2,254.5L181.5,255.5L181.8,256.5L182.0,257.5L182.2,258.5L182.5,259.6L182.8,260.6L183.0,261.6L183.2,262.7L183.5,263.7L183.8,264.8L184.0,265.8L184.2,266.9L184.5,268.0L184.8,269.0L185.0,270.1L185.2,271.2L185.5,272.3L185.8,273.4L186.0,274.5L186.2,275.6L186.5,276.7L186.8,277.9L187.0,279.0L187.2,280.1L187.5,281.3L187.8,282.4L188.0,283.5L188.2,284.7L188.5,285.8L188.8,287.0L189.0,288.2L189.2,289.3L189.5,290.5L189.8,291.7L190.0,292.8L190.2,294.0L190.5,295.2L190.8,296.3L191.0,297.5L191.2,298.7L191.5,299.9L191.8,301.1L192.0,302.2L192.2,303.4L192.5,304.6L192.8,305.8L193.0,307.0L193.2,308.2L193.5,309.4L193.8,310.5L194.0,311.7L194.2,312.9L194.5,314.1L194.8,315.3L195.0,316.4L195.2,317.6L195.5,318.8L195.8,320.0L196.0,321.1L196.2,322.3L196.5,323.5L196.8,324.7L197.0,325.8L197.2,327.0L197.5,328.2L197.8,329.3L198.0,330.5L198.2,331.6L198.5,332.8L198.8,334.0L199.0,335.1L199.2,336.3L199.5,337.4L199.8,338.6L200.0,339.7L200.2,340.9L200.5,342.0L200.8,343.1L201.0,344.3L201.2,345.4L201.5,346.6L201.8,347.7L202.0,348.9L202.2,350.0L202.5,351.1L202.8,352.3L203.0,353.4L203.2,354.5L203.5,355.7L203.8,356.8L204.0,357.9L204.2,359.1L204.5,360.2L204.8,361.3L205.0,362.5L205.2,363.6L205.5,364.7L205.8,365.9L206.0,367.0L206.2,368.1L206.5,369.2L206.8,370.4L207.0,371.5L207.2,372.6L207.5,373.7L207.8,374.9L208.0,376.0L208.2,377.1L208.5,378.2L208.8,379.4L209.0,380.5L209.2,381.6L209.5,382.7L209.8,383.9L210.0,385.0L210.2,386.1L210.5,387.2L210.8,388.3L211.0,389.4L211.2,390.6L211.5,391.7L211.8,392.8L212.0,393.9L212.2,395.0L212.5,396.1L212.8,397.2L213.0,398.3L213.2,399.4L213.5,400.5L213.8,401.6L214.0,402.7L214.2,403.8L214.5,404.9L214.8,406.0L215.0,407.0L215.2,408.1L215.5,409.2L215.8,410.3L216.0,411.3L216.2,412.4L216.5,413.5L216.8,414.5L217.0,415.6L217.2,416.7L217.5,417.7L217.8,418.8L218.0,419.8L218.2,420.9L218.5,421.9L218.8,422.9L219.0,424.0L219.2,425.0L219.5,426.0L219.8,427.1L220.0,428.1L220.2,429.1L220.5,430.1L220.8,431.1L221.0,432.1L221.2,433.2L221.5,434.2L221.8,435.2L222.0,436.2L222.2,437.1L222.5,438.1L222.8,439.1L223.0,440.1L223.2,441.1L223.5,442.1L223.8,443.0L224.0,444.0L224.2,445.0L224.5,445.9L224.8,446.9L225.0,447.8L225.2,448.8L225.5,449.7L225.8,450.7L226.0,451.6L226.2,452.6L226.5,453.5L226.8,454.4L227.0,455.4L227.2,456.3L227.5,457.2L227.8,458.1L228.0,459.0L228.2,459.9L228.5,460.8L228.8,461.8L229.0,462.7L229.2,463.5L229.5,464.4L229.8,465.3L230.0,466.2L230.2,467.1L230.5,468.0L230.8,468.8L231.0,469.7L231.2,470.6L231.5,471.5L231.8,472.3L232.0,473.2L232.2,474.0L232.5,474.9L232.8,475.7L233.0,476.6L233.2,477.4L233.5,478.2L233.8,479.1L234.0,479.9L234.2,480.7L234.5,481.6L234.8,482.4L235.0,483.2L235.2,484.0L235.5,484.8L235.8,485.6L236.0,486.5L236.2,487.3L236.5,488.1L236.8,488.9L237.0,489.7L237.2,490.4L237.5,491.2L237.8,492.0L238.0,492.8L238.2,493.6L238.5,494.4L238.8,495.2L239.0,495.9L239.2,496.7L239.5,497.5L239.8,498.3L240.0,499.0L240.2,499.8L240.5,500.6L240.8,501.3L241.0,502.1L241.2,502.8L241.5,503.6L241.8,504.4L242.0,505.1L242.2,505.9L242.5,506.6L242.8,507.4L243.0,508.1L243.2,508.8L243.5,509.6L243.8,510.3L244.0,511.1L244.2,511.8L244.5,512.5L244.8,513.3L245.0,514.0L245.2,514.7L245.5,515.4L245.8,516.2L246.0,516.9L246.2,517.6L246.5,518.3L246.8,519.0L247.0,519.7L247.2,520.4L247.5,521.1L247.8,521.8L248.0,522.5L248.2,523.2L248.5,523.9L248.8,524.6L249.0,525.3L249.2,526.0L249.5,526.6L249.8,527.3L250.0,528.0L250.2,528.6L250.5,529.3L250.8,530.0L251.0,530.6L251.2,531.3L251.5,531.9L251.8,532.6L252.0,533.2L252.2,533.8L252.5,534.5L252.8,535.1L253.0,535.7L253.2,536.3L253.5,537.0L253.8,537.6L254.0,538.2L254.2,538.8L254.5,539.4L254.8,540.0L255.0,540.6L255.2,541.2L255.5,541.8L255.8,542.4L256.0,543.0L256.2,543.6L256.5,544.1L256.8,544.7L257.0,545.3L257.2,545.9L257.5,546.4L257.8,547.0L258.0,547.6L258.2,548.1L258.5,548.7L258.8,549.3L259.0,549.8L259.2,550.4L259.5,551.0L259.8,551.5L260.0,552.1L260.2,552.7L260.5,553.2L260.8,553.8L261.0,554.4L261.2,554.9L261.5,555.5L261.8,556.0L262.0,556.6L262.2,557.2L262.5,557.7L262.8,558.3L263.0,558.9L263.2,559.4L263.5,560.0L263.8,560.6L264.0,561.2L264.2,561.7L264.5,562.3L264.8,562.9L265.0,563.5L265.2,564.1L265.5,564.7L265.8,565.3L266.0,565.8L266.2,566.4L266.5,567.0L266.8,567.6L267.0,568.2L267.2,568.8L267.5,569.4L267.8,570.0L268.0,570.6L268.2,571.2L268.5,571.8L268.8,572.5L269.0,573.1L269.2,573.7L269.5,574.3L269.8,574.9L270.0,575.5L270.2,576.1L270.5,576.7L270.8,577.4L271.0,578.0L271.2,578.6L271.5,579.2L271.8,579.8L272.0,580.4L272.2,581.0L272.5,581.7L272.8,582.3L273.0,582.9L273.2,583.5L273.5,584.1L273.8,584.7L274.0,585.3L274.2,585.9L274.5,586.5L274.8,587.1L275.0,587.7L275.2,588.3L275.5,588.9L275.8,589.5L276.0,590.1L276.2,590.7L276.5,591.3L276.8,591.9L277.0,592.5L277.2,593.1L277.5,593.7L277.8,594.2L278.0,594.8L278.2,595.4L278.5,596.0L278.8,596.5L279.0,597.1L279.2,597.7L279.5,598.2L279.8,598.8L280.0,599.4L280.2,599.9L280.5,600.5L280.8,601.0L281.0,601.6L281.2,602.1L281.5,602.7L281.8,603.2L282.0,603.8L282.2,604.3L282.5,604.9L282.8,605.4L283.0,606.0L283.2,606.5L283.5,607.1L283.8,607.6L284.0,608.2L284.2,608.7L284.5,609.2L284.8,609.8L285.0,610.3L285.2,610.9L285.5,611.4L285.8,612.0L286.0,612.5L286.2,613.1L286.5,613.6L286.8,614.2L287.0,614.8L287.2,615.3L287.5,615.9L287.8,616.4L288.0,617.0L288.2,617.6L288.5,618.1L288.8,618.7L289.0,619.3L289.2,619.8L289.5,620.4L289.8,621.0L290.0,621.5L290.2,622.1L290.5,622.7L290.8,623.3L291.0,623.9L291.2,624.4L291.5,625.0L291.8,625.6L292.0,626.2L292.2,626.8L292.5,627.4L292.8,627.9L293.0,628.5L293.2,629.1L293.5,629.7L293.8,630.3L294.0,630.9L294.2,631.5L294.5,632.1L294.8,632.7L295.0,633.3L295.2,633.8L295.5,634.4L295.8,635.0L296.0,635.6L296.2,636.2L296.5,636.8L296.8,637.3L297.0,637.9L297.2,638.5L297.5,639.1L297.8,639.6L298.0,640.2L298.2,640.8L298.5,641.3L298.8,641.9L299.0,642.5L299.2,643.0L299.5,643.6L299.8,644.1L300.0,644.7L300.2,645.2L300.5,645.7L300.8,646.3L301.0,646.8L301.2,647.3L301.5,647.8L301.8,648.4L302.0,648.9L302.2,649.4L302.5,649.9L302.8,650.4L303.0,650.9L303.2,651.4L303.5,651.8L303.8,652.3L304.0,652.8L304.2,653.3L304.5,653.7L304.8,654.2L305.0,654.6L305.2,655.1L305.5,655.5L305.8,656.0L306.0,656.4L306.2,656.9L306.8,657.7L307.2,658.6L307.8,659.4L308.2,660.2L308.8,661.0L309.2,661.8L309.8,662.5L310.2,663.3L310.8,664.1L311.2,664.8L311.8,665.5L312.2,666.2L312.8,666.9L313.2,667.6L313.8,668.3L314.2,669.0L314.8,669.7L315.2,670.3L315.8,671.0L316.2,671.6L316.8,672.3L317.2,672.9L317.8,673.5L318.2,674.1L318.8,674.7L319.2,675.3L319.8,675.9L320.2,676.4L320.8,677.0L321.2,677.6L321.8,678.1L322.2,678.6L322.8,679.1L323.2,679.6L323.8,680.1L324.2,680.6L324.8,681.1L325.2,681.5L325.8,682.0L326.2,682.4L326.8,682.8L327.2,683.2L327.8,683.6L328.2,684.0L328.8,684.4L329.2,684.7L329.8,685.1L330.2,685.4L330.8,685.7L331.2,686.0L331.8,686.3L332.2,686.6L332.8,686.9L333.2,687.2L333.8,687.5L334.2,687.8L334.8,688.0L335.2,688.3L335.8,688.5L336.2,688.7L336.8,689.0L337.2,689.2L337.8,689.4L338.2,689.6L338.8,689.9L339.2,690.1L339.8,690.3L340.2,690.4L340.8,690.6L341.2,690.8L341.8,691.0L342.2,691.2L342.8,691.3L343.2,691.5L343.8,691.6L344.2,691.8L344.8,691.9L345.2,692.1L345.8,692.2L346.2,692.3L346.8,692.5L347.2,692.6L347.8,692.7L348.2,692.8L348.8,692.9L349.2,693.0L349.8,693.1L350.2,693.2L350.8,693.3L351.2,693.4L351.8,693.5L352.2,693.6L352.8,693.7L353.2,693.7L353.8,693.8L354.2,693.9L354.8,694.0L355.2,694.1L355.8,694.2L356.2,694.3L356.8,694.4L357.2,694.4L357.8,694.5L358.2,694.6L358.8,694.7L359.2,694.8L359.8,694.9L360.2,695.0L360.8,695.1L361.2,695.2L361.8,695.3L362.2,695.5L362.8,695.6L363.2,695.7L363.8,695.8L364.2,695.9L364.8,696.0L365.2,696.1L365.8,696.2L366.2,696.3L366.8,696.4L367.2,696.5L367.8,696.6L368.2,696.7L368.8,696.8L369.2,696.9L369.8,697.0L370.2,697.1L370.8,697.2L371.2,697.2L371.8,697.3L372.2,697.4L372.8,697.5L373.2,697.5L373.8,697.6L374.2,697.6L374.8,697.7L375.2,697.8L375.8,697.8L376.2,697.9L376.8,697.9L377.2,698.0L377.8,698.0L378.2,698.1L378.8,698.1L379.2,698.2L379.8,698.2L380.2,698.3L380.8,698.4L381.2,698.4L381.8,698.5L382.2,698.6L382.8,698.6L383.2,698.7L383.8,698.8L384.2,698.9L384.8,699.0L385.2,699.1L385.8,699.2L386.2,699.3L386.8,699.4L387.2,699.5L387.8,699.6L388.2,699.7L388.8,699.8L389.2,699.9L389.8,700.1L390.2,700.2L390.8,700.3L391.2,700.4L391.8,700.5L392.2,700.7L392.8,700.8L393.2,700.9L393.8,701.0L394.2,701.1L394.8,701.3L395.2,701.4L395.8,701.5L396.2,701.6L396.8,701.7L397.2,701.8L397.8,701.9L398.2,702.0L398.8,702.1L399.2,702.2L399.8,702.3L401.0,702.5L402.0,702.7L403.0,702.9L404.0,703.0L405.0,703.2L406.0,703.4L407.0,703.5L408.0,703.7L409.0,703.9L410.0,704.1L411.0,704.3L412.0,704.5L413.0,704.6L414.0,704.8L415.0,705.0L416.0,705.2L417.0,705.4L418.0,705.6L419.0,705.8L420.0,706.0L421.0,706.1L422.0,706.3L423.0,706.5L424.0,706.7L425.0,706.8L426.0,707.0L427.0,707.2L428.0,707.3L429.0,707.5L430.0,707.7L431.0,707.9L432.0,708.0L433.0,708.2L434.0,708.4L435.0,708.6L436.0,708.8L437.0,709.0L438.0,709.2L439.0,709.4L440.0,709.6L441.0,709.7L442.0,709.9L443.0,710.1L444.0,710.3L445.0,710.5L446.0,710.6L447.0,710.8L448.0,711.0L449.0,711.1L450.0,711.3L451.0,711.4L452.0,711.6L453.0,711.8L454.0,711.9L455.0,712.1L456.0,712.3L457.0,712.5L458.0,712.6L459.0,712.8L460.0,713.0L461.0,713.2L462.0,713.4L463.0,713.6L464.0,713.8L465.0,714.0L466.0,714.2L467.0,714.4L468.0,714.5L469.0,714.7L470.0,714.9L471.0,715.1L472.0,715.3L473.0,715.4L474.0,715.6L475.0,715.8L476.0,715.9L477.0,716.1L478.0,716.3L479.0,716.4L480.0,716.6L481.0,716.7L482.0,716.9L483.0,717.1L484.0,717.2L485.0,717.4L486.0,717.5L487.0,717.7L488.0,717.8L489.0,717.9L490.0,718.1L491.0,718.2L492.0,718.4L493.0,718.5L494.0,718.7L495.0,718.8L496.0,718.9L497.0,719.1L498.0,719.2L499.0,719.3L500.0,719.4L501.0,719.6L502.0,719.7L503.0,719.8L504.0,719.9L505.0,720.0L506.0,720.1L507.0,720.2L508.0,720.3L509.0,720.4L510.0,720.4L511.0,720.5L512.0,720.6L513.0,720.6L514.0,720.7L515.0,720.7L516.0,720.8L517.0,720.8L518.0,720.8L519.0,720.8L520.0,720.9L521.0,720.9L522.0,720.9L523.0,720.9L524.0,720.9L525.0,721.0L526.0,721.0L527.0,721.0L528.0,721.0L529.0,721.0L530.0,721.0L531.0,721.0L532.0,721.0L533.0,721.0L534.0,721.0L535.0,721.0L536.0,721.0L537.0,721.0L538.0,721.0L539.0,721.0L540.0,721.0L541.0,721.0L542.0,721.0L543.0,721.0L544.0,721.0L545.0,721.0L546.0,721.0L547.0,721.0L548.0,721.0L549.0,721.0L550.0,721.0L551.0,721.0L552.0,721.0L553.0,721.0L554.0,721.0L555.0,721.0L556.0,721.0L557.0,721.0L558.0,721.0L559.0,721.0L560.0,721.0L561.0,721.0L562.0,721.0L563.0,721.0L564.0,721.0L565.0,721.0L566.0,721.0L567.0,721.0L568.0,721.0L569.0,721.0L570.0,721.0L571.0,721.0L572.0,721.0L573.0,721.0L574.0,721.0L575.0,721.0L576.0,721.0L577.0,721.0L578.0,721.0L579.0,721.0L580.0,721.0L581.0,721.0L582.0,721.0L583.0,721.0L584.0,721.0L585.0,721.0L586.0,721.0L587.0,721.0L588.0,721.0L589.0,721.0L590.0,721.0L591.0,721.0L592.0,721.0L593.0,721.0L594.0,721.0L595.0,721.0L596.0,721.0L597.0,721.0L598.0,721.0L599.0,721.0L600.0,721.0L601.0,721.0L602.0,721.0L603.0,721.0L604.0,721.0L605.0,721.0L606.0,721.0L607.0,721.0L608.0,721.0L609.0,721.0L610.0,721.0L611.0,721.0L612.0,721.0L613.0,721.0L614.0,721.0L615.0,721.0L616.0,721.0L617.0,721.0L618.0,721.0L619.0,721.0L620.0,721.0L621.0,721.0L622.0,721.0L623.0,721.0L624.0,721.0L625.0,721.0L626.0,721.0L627.0,721.0L628.0,721.0L629.0,721.0L630.0,721.0L631.0,721.0L632.0,721.0L633.0,721.0L634.0,721.0L635.0,721.0L636.0,721.0L637.0,721.0L638.0,721.0L639.0,721.0L640.0,721.0L641.0,721.0L642.0,721.0L643.0,721.0L644.0,721.0L645.0,721.0L646.0,721.0L647.0,721.0L648.0,721.0L649.0,721.0L650.0,721.0L651.0,721.0L652.0,721.0L653.0,721.0L654.0,721.0L655.0,721.0L656.0,721.0L657.0,721.0L658.0,721.0L659.0,721.0L660.0,721.0L661.0,721.0L662.0,721.0L663.0,721.0L664.0,721.0L665.0,721.0L666.0,721.0L667.0,721.0L668.0,721.0L669.0,721.0L670.0,721.0L671.0,721.0L672.0,721.0L673.0,721.0L674.0,721.0L675.0,721.0L676.0,721.0L677.0,721.0L678.0,721.0L679.0,721.0L680.0,721.0L681.0,721.0L682.0,721.0L683.0,721.0L684.0,721.0L685.0,721.0L686.0,721.0L687.0,721.0L688.0,721.0L689.0,721.0L690.0,721.0L691.0,721.0L692.0,721.0L693.0,721.0L694.0,721.0L695.0,721.0L696.0,721.0L697.0,721.0L698.0,721.0L699.0,721.0L700.0,721.0L702.0,721.0L704.0,721.0L706.0,721.0L708.0,721.0L710.0,721.0L712.0,721.0L714.0,721.0L716.0,721.0L718.0,721.0L720.0,721.0L722.0,721.0L724.0,721.0L726.0,721.0L728.0,721.0L730.0,721.0L732.0,721.0L734.0,721.0L736.0,721.0L738.0,721.0L740.0,721.0L742.0,721.0L744.0,721.0L746.0,721.0L748.0,721.0L750.0,721.0L752.0,721.0L754.0,721.0L756.0,721.0L758.0,721.0L760.0,721.0L762.0,721.0L764.0,721.0L766.0,721.0L768.0,721.0L770.0,721.0L772.0,721.0L774.0,721.0L776.0,721.0L778.0,721.0L780.0,721.0L782.0,721.0L784.0,721.0L786.0,721.0L788.0,721.0L790.0,721.0L792.0,721.0L794.0,721.0L796.0,721.0L798.0,721.0L800.0,721.0L802.0,721.0L804.0,721.0L806.0,721.0L808.0,721.0L810.0,721.0L812.0,721.0L814.0,721.0L816.0,721.0L818.0,721.0L820.0,721.0L822.0,721.0L824.0,721.0L826.0,721.0L828.0,721.0L830.0,721.0L832.0,721.0L834.0,721.0L836.0,721.0L838.0,721.0L840.0,721.0L842.0,721.0L844.0,721.0L846.0,721.0L848.0,721.0L850.0,721.0L852.0,721.0L854.0,721.0L856.0,721.0L858.0,721.0L860.0,721.0L862.0,721.0L864.0,721.0L866.0,721.0L868.0,721.0L870.0,721.0L872.0,721.0L874.0,721.0L876.0,721.0L878.0,721.0L880.0,721.0L882.0,721.0L884.0,721.0L886.0,721.0L888.0,721.0L890.0,721.0L892.0,721.0L894.0,721.0L896.0,721.0L898.0,721.0L900.0,721.0L902.0,721.0L904.0,721.0L906.0,721.0L908.0,721.0L910.0,721.0L912.0,721.0L914.0,721.0L916.0,721.0L918.0,721.0L920.0,721.0L922.0,721.0L924.0,721.0L926.0,721.0L928.0,721.0L930.0,721.0L932.0,721.0L934.0,721.0L936.0,721.0L938.0,721.0L940.0,721.0L942.0,721.0L944.0,721.0L946.0,721.0L948.0,721.0L950.0,721.0L952.0,721.0L954.0,721.0L956.0,721.0L958.0,721.0L960.0,721.0L962.0,721.0L964.0,721.0L966.0,721.0L968.0,721.0L970.0,721.0L972.0,721.0L974.0,721.0L976.0,721.0L978.0,721.0L980.0,721.0L982.0,721.0L984.0,721.0L986.0,721.0L988.0,721.0L990.0,721.0L992.0,721.0L994.0,721.0L996.0,721.0L998.0,721.0L1000.0,721.0L1002.0,721.0L1004.0,721.0L1006.0,721.0L1008.0,721.0L1010.0,721.0L1012.0,721.0L1014.0,721.0L1016.0,721.0L1018.0,721.0L1020.0,721.0L1022.0,721.0L1024.0,721.0L1026.0,721.0L1028.0,721.0L1030.0,721.0L1032.0,721.0L1034.0,721.0L1036.0,721.0L1038.0,721.0L1040.0,721.0L1042.0,721.0L1044.0,721.0L1046.0,721.0L1048.0,721.0L1050.0,721.0L1052.0,721.0L1054.0,721.0L1056.0,721.0L1058.0,721.0L1060.0,721.0L1062.0,721.0L1064.0,721.0L1066.0,721.0L1068.0,721.0L1070.0,721.0L1072.0,721.0L1074.0,721.0L1076.0,721.0L1078.0,721.0L1080.0,721.0L1082.0,721.0L1084.0,721.0L1086.0,721.0L1088.0,721.0L1090.0,721.0L1092.0,721.0L1094.0,721.0L1096.0,721.0L1098.0,721.0L1100.0,721.0L1102.0,721.0L1104.0,721.0L1106.0,721.0L1108.0,721.0L1110.0,721.0L1112.0,721.0L1114.0,721.0L1116.0,721.0L1118.0,721.0L1120.0,721.0L1122.0,721.0L1124.0,721.0L1126.0,721.0L1128.0,721.0L1130.0,721.0L1132.0,721.0L1134.0,721.0L1136.0,721.0L1138.0,721.0L1140.0,721.0L1142.0,721.0L1144.0,721.0L1146.0,721.0L1148.0,721.0L1150.0,721.0L1152.0,721.0L1154.0,721.0L1156.0,721.0L1158.0,721.0L1160.0,721.0L1162.0,721.0L1164.0,721.0L1166.0,721.0L1168.0,721.0L1170.0,721.0L1172.0,721.0L1174.0,721.0L1176.0,721.0L1178.0,721.0L1180.0,721.0L1182.0,721.0L1184.0,721.0L1186.0,721.0L1188.0,721.0L1190.0,721.0L1192.0,721.0L1194.0,721.0L1196.0,721.0L1198.0,721.0L1200.0,721.0L1202.0,721.0L1204.0,721.0L1206.0,721.0L1208.0,721.0L1210.0,721.0L1212.0,721.0L1214.0,721.0L1216.0,721.0L1218.0,721.0L1220.0,721.0L1222.0,721.0L1224.0,721.0L1226.0,721.0L1228.0,721.0L1230.0,721.0L1232.0,721.0L1234.0,720.9L1236.0,720.9L1238.0,720.9L1240.0,720.9L1242.0,720.8L1244.0,720.8L1246.0,720.8L1248.0,720.7L1250.0,720.7L1252.0,720.6L1254.0,720.5L1256.0,720.4L1258.0,720.3L1260.0,720.2L1262.0,720.1L1264.0,719.9L1266.0,719.8L1268.0,719.6L1270.0,719.5L1272.0,719.3L1274.0,719.1L1276.0,718.9L1278.0,718.8L1280.0,718.6L1282.0,718.5L1284.0,718.3L1286.0,718.2L1288.0,718.1L1290.0,718.0L1292.0,718.0L1294.0,717.9L1296.0,717.9L1298.0,717.9L1300.0,718.0L1302.0,718.0L1304.0,718.1L1306.0,718.2L1308.0,718.3L1310.0,718.5L1312.0,718.6L1314.0,718.8L1314.4,718.8" fill="none" stroke="#000" stroke-width="2.84" stroke-linejoin="round"/>
<line x1="336.6" x2="336.6" y1="755.4" y2="0" stroke="#000" stroke-width="2.84" stroke-dasharray="11.38 11.38"/>
</g>
<g fill="#333333"><rect x="62.0" y="0.65" width="1.42" height="754.75"/><rect x="1312.98" y="0.65" width="1.42" height="754.75"/><rect x="62.0" y="0.65" width="1252.40" height="1.42"/><rect x="62.0" y="753.98" width="1252.40" height="1.42"/></g>
<g stroke="#333333" stroke-width="2.84"><line x1="54.67" x2="62.0" y1="721.00" y2="721.00"/><line x1="54.67" x2="62.0" y1="525.30" y2="525.30"/><line x1="54.67" x2="62.0" y1="329.60" y2="329.60"/><line x1="54.67" x2="62.0" y1="133.90" y2="133.90"/><line y1="755.4" y2="762.73" x1="469.46" x2="469.46"/><line y1="755.4" y2="762.73" x1="879.21" x2="879.21"/><line y1="755.4" y2="762.73" x1="1288.97" x2="1288.97"/></g>
<g fill="#4D4D4D" font-size="23.47px"><text x="49.0" y="729.70" text-anchor="end">0</text><text x="49.0" y="534.00" text-anchor="end">2</text><text x="49.0" y="338.30" text-anchor="end">4</text><text x="49.0" y="141.80" text-anchor="end">6</text><text x="469.46" y="786.0" text-anchor="middle">0.5</text><path d="M871.11,769.1L871.11,785.84L869.13,785.84L869.13,773.8L865.18,773.8L865.18,772.15C867.25,771.9 868.95,771.1 869.65,769.1Z"/><text x="875.95" y="786.0">.0</text><path d="M1280.06,769.1L1280.06,785.84L1278.08,785.84L1278.08,773.8L1274.13,773.8L1274.13,772.15C1276.20,771.9 1277.90,771.1 1278.60,769.1Z"/><text x="1285.71" y="786.0">.5</text></g>
<text transform="translate(688.9,819.6) scale(1.015,1.10)" text-anchor="middle" font-size="29.33px" fill="#000">DI</text>
<text transform="translate(21.6,378.4) rotate(-90)" text-anchor="middle" letter-spacing="0.18" font-size="29.33px" fill="#000">density</text>
<g font-size="29.33px" fill="#000"><text transform="translate(349.2,904.7) scale(1,1.076)">S</text><text x="367.96" y="904.7" letter-spacing="-0.2">et</text></g>
<rect x="408.7" y="872.6" width="42.0" height="42.1" fill="rgba(248,118,109,0.4)" stroke="#000" stroke-width="2.84"/>
<rect x="608.8" y="872.4" width="42.4" height="42.3" fill="rgba(0,191,196,0.4)" stroke="#000" stroke-width="2.84"/>
<g font-size="23.47px" fill="#000">
<text x="466.8" y="901.8">predictionDI</text>
<text x="668.2" y="901.8">trainDI</text>
<text x="870.3" y="901.8" letter-spacing="-0.18">AOA_threshold</text>
</g>
<line x1="832.6" x2="832.6" y1="916.8" y2="870.9" stroke="#000" stroke-width="2.84" stroke-dasharray="11.38 11.38"/>
</svg>
</body></html>
